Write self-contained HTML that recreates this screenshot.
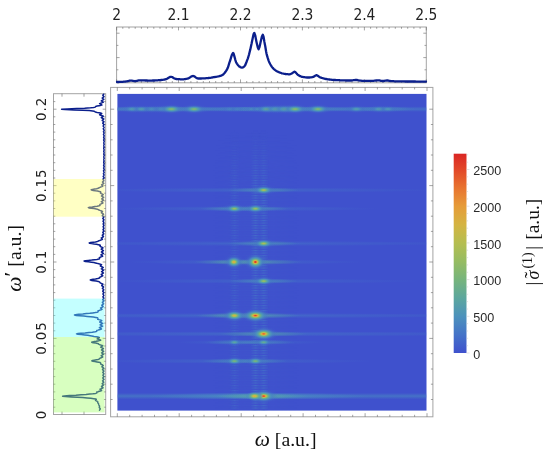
<!DOCTYPE html>
<html lang="en">
<head>
<meta charset="utf-8">
<title>2D spectrum</title>
<style>
html,body{margin:0;padding:0;background:#fff;}
body{width:550px;height:459px;overflow:hidden;}
svg{display:block;}
text{white-space:pre;}
</style>
</head>
<body>
<svg width="550" height="459" viewBox="0 0 550 459">
<defs>
<clipPath id="hc"><rect x="117.4" y="93.9" width="309.1" height="316.7"/></clipPath>
<pattern id="rip" width="4" height="2.5" patternUnits="userSpaceOnUse"><rect width="4" height="1.2" fill="#4a86c6"/></pattern>
<linearGradient id="vg" x1="0" x2="0" y1="0" y2="1"><stop offset="0" stop-color="#fff" stop-opacity="0"/><stop offset="0.22" stop-color="#fff" stop-opacity="1"/><stop offset="1" stop-color="#fff" stop-opacity="1"/></linearGradient>
<mask id="vm"><rect x="110" y="130" width="330" height="282" fill="url(#vg)"/></mask>
<linearGradient id="cg1" x1="0" x2="1" y1="0" y2="0"><stop offset="0" stop-color="#fff" stop-opacity="0"/><stop offset="0.5" stop-color="#fff" stop-opacity="1"/><stop offset="1" stop-color="#fff" stop-opacity="0"/></linearGradient>
<mask id="cm2"><rect x="228.9" y="130" width="11.0" height="282" fill="url(#cg1)"/></mask>
<linearGradient id="cg3" x1="0" x2="1" y1="0" y2="0"><stop offset="0" stop-color="#fff" stop-opacity="0"/><stop offset="0.5" stop-color="#fff" stop-opacity="1"/><stop offset="1" stop-color="#fff" stop-opacity="0"/></linearGradient>
<mask id="cm4"><rect x="250.4" y="130" width="10" height="282" fill="url(#cg3)"/></mask>
<linearGradient id="cg5" x1="0" x2="1" y1="0" y2="0"><stop offset="0" stop-color="#fff" stop-opacity="0"/><stop offset="0.5" stop-color="#fff" stop-opacity="1"/><stop offset="1" stop-color="#fff" stop-opacity="0"/></linearGradient>
<mask id="cm6"><rect x="258.7" y="130" width="10" height="282" fill="url(#cg5)"/></mask>
<linearGradient id="cg7" x1="0" x2="1" y1="0" y2="0"><stop offset="0" stop-color="#fff" stop-opacity="0"/><stop offset="0.5" stop-color="#fff" stop-opacity="1"/><stop offset="1" stop-color="#fff" stop-opacity="0"/></linearGradient>
<mask id="cm8"><rect x="211.0" y="130" width="90" height="282" fill="url(#cg7)"/></mask>
<linearGradient id="sg9" x1="0" x2="0" y1="0" y2="1"><stop offset="0" stop-color="#4679c6" stop-opacity="0"/><stop offset="0.5" stop-color="#4679c6" stop-opacity="0.75"/><stop offset="1" stop-color="#4679c6" stop-opacity="0"/></linearGradient>
<radialGradient id="sg10"><stop offset="0" stop-color="#4474c8" stop-opacity="0.7"/><stop offset="0.3" stop-color="#4474c8" stop-opacity="0.4"/><stop offset="0.7" stop-color="#4474c8" stop-opacity="0.18"/><stop offset="1" stop-color="#4474c8" stop-opacity="0"/></radialGradient>
<radialGradient id="sg11"><stop offset="0" stop-color="#4474c8" stop-opacity="0.7"/><stop offset="0.3" stop-color="#4474c8" stop-opacity="0.4"/><stop offset="0.7" stop-color="#4474c8" stop-opacity="0.18"/><stop offset="1" stop-color="#4474c8" stop-opacity="0"/></radialGradient>
<radialGradient id="sg12"><stop offset="0" stop-color="#4472c8" stop-opacity="0.7"/><stop offset="0.3" stop-color="#4472c8" stop-opacity="0.4"/><stop offset="0.7" stop-color="#4472c8" stop-opacity="0.18"/><stop offset="1" stop-color="#4472c8" stop-opacity="0"/></radialGradient>
<radialGradient id="sg13"><stop offset="0" stop-color="#4472c8" stop-opacity="0.7"/><stop offset="0.3" stop-color="#4472c8" stop-opacity="0.4"/><stop offset="0.7" stop-color="#4472c8" stop-opacity="0.18"/><stop offset="1" stop-color="#4472c8" stop-opacity="0"/></radialGradient>
<radialGradient id="sg14"><stop offset="0" stop-color="#436fc9" stop-opacity="0.7"/><stop offset="0.3" stop-color="#436fc9" stop-opacity="0.4"/><stop offset="0.7" stop-color="#436fc9" stop-opacity="0.18"/><stop offset="1" stop-color="#436fc9" stop-opacity="0"/></radialGradient>
<radialGradient id="sg15"><stop offset="0" stop-color="#4679c6" stop-opacity="0.7"/><stop offset="0.3" stop-color="#4679c6" stop-opacity="0.4"/><stop offset="0.7" stop-color="#4679c6" stop-opacity="0.18"/><stop offset="1" stop-color="#4679c6" stop-opacity="0"/></radialGradient>
<radialGradient id="sg16"><stop offset="0" stop-color="#4679c6" stop-opacity="0.7"/><stop offset="0.3" stop-color="#4679c6" stop-opacity="0.4"/><stop offset="0.7" stop-color="#4679c6" stop-opacity="0.18"/><stop offset="1" stop-color="#4679c6" stop-opacity="0"/></radialGradient>
<radialGradient id="sg17"><stop offset="0" stop-color="#436fc9" stop-opacity="0.7"/><stop offset="0.3" stop-color="#436fc9" stop-opacity="0.4"/><stop offset="0.7" stop-color="#436fc9" stop-opacity="0.18"/><stop offset="1" stop-color="#436fc9" stop-opacity="0"/></radialGradient>
<radialGradient id="sg18"><stop offset="0" stop-color="#4472c8" stop-opacity="0.7"/><stop offset="0.3" stop-color="#4472c8" stop-opacity="0.4"/><stop offset="0.7" stop-color="#4472c8" stop-opacity="0.18"/><stop offset="1" stop-color="#4472c8" stop-opacity="0"/></radialGradient>
<linearGradient id="sg19" x1="0" x2="0" y1="0" y2="1"><stop offset="0" stop-color="#477dc4" stop-opacity="0"/><stop offset="0.5" stop-color="#477dc4" stop-opacity="0.75"/><stop offset="1" stop-color="#477dc4" stop-opacity="0"/></linearGradient>
<radialGradient id="b396"><stop offset="0" stop-color="#4f9abc" stop-opacity="0.9"/><stop offset="0.5" stop-color="#4a8dc2" stop-opacity="0.5"/><stop offset="1" stop-color="#4a8dc2" stop-opacity="0"/></radialGradient>
<radialGradient id="wg20"><stop offset="0" stop-color="#4884c1" stop-opacity="0.9"/><stop offset="0.4" stop-color="#4884c1" stop-opacity="0.45"/><stop offset="1" stop-color="#4884c1" stop-opacity="0"/></radialGradient>
<radialGradient id="wg21"><stop offset="0" stop-color="#4884c1" stop-opacity="0.9"/><stop offset="0.4" stop-color="#4884c1" stop-opacity="0.45"/><stop offset="1" stop-color="#4884c1" stop-opacity="0"/></radialGradient>
<radialGradient id="wg22"><stop offset="0" stop-color="#4780c3" stop-opacity="0.9"/><stop offset="0.4" stop-color="#4780c3" stop-opacity="0.45"/><stop offset="1" stop-color="#4780c3" stop-opacity="0"/></radialGradient>
<radialGradient id="wg23"><stop offset="0" stop-color="#4881c3" stop-opacity="0.9"/><stop offset="0.4" stop-color="#4881c3" stop-opacity="0.45"/><stop offset="1" stop-color="#4881c3" stop-opacity="0"/></radialGradient>
<radialGradient id="wg24"><stop offset="0" stop-color="#4c91bc" stop-opacity="0.9"/><stop offset="0.4" stop-color="#4c91bc" stop-opacity="0.45"/><stop offset="1" stop-color="#4c91bc" stop-opacity="0"/></radialGradient>
<radialGradient id="wg25"><stop offset="0" stop-color="#4b90bd" stop-opacity="0.9"/><stop offset="0.4" stop-color="#4b90bd" stop-opacity="0.45"/><stop offset="1" stop-color="#4b90bd" stop-opacity="0"/></radialGradient>
<radialGradient id="wg26"><stop offset="0" stop-color="#477ec4" stop-opacity="0.9"/><stop offset="0.4" stop-color="#477ec4" stop-opacity="0.45"/><stop offset="1" stop-color="#477ec4" stop-opacity="0"/></radialGradient>
<radialGradient id="wg27"><stop offset="0" stop-color="#477ec4" stop-opacity="0.9"/><stop offset="0.4" stop-color="#477ec4" stop-opacity="0.45"/><stop offset="1" stop-color="#477ec4" stop-opacity="0"/></radialGradient>
<radialGradient id="wg28"><stop offset="0" stop-color="#4881c3" stop-opacity="0.9"/><stop offset="0.4" stop-color="#4881c3" stop-opacity="0.45"/><stop offset="1" stop-color="#4881c3" stop-opacity="0"/></radialGradient>
<radialGradient id="wg29"><stop offset="0" stop-color="#4881c3" stop-opacity="0.9"/><stop offset="0.4" stop-color="#4881c3" stop-opacity="0.45"/><stop offset="1" stop-color="#4881c3" stop-opacity="0"/></radialGradient>
<radialGradient id="wg30"><stop offset="0" stop-color="#4a8bbf" stop-opacity="0.9"/><stop offset="0.4" stop-color="#4a8bbf" stop-opacity="0.45"/><stop offset="1" stop-color="#4a8bbf" stop-opacity="0"/></radialGradient>
<radialGradient id="wg31"><stop offset="0" stop-color="#4986c1" stop-opacity="0.9"/><stop offset="0.4" stop-color="#4986c1" stop-opacity="0.45"/><stop offset="1" stop-color="#4986c1" stop-opacity="0"/></radialGradient>
<radialGradient id="wg32"><stop offset="0" stop-color="#4987c0" stop-opacity="0.9"/><stop offset="0.4" stop-color="#4987c0" stop-opacity="0.45"/><stop offset="1" stop-color="#4987c0" stop-opacity="0"/></radialGradient>
<radialGradient id="wg33"><stop offset="0" stop-color="#4c91bc" stop-opacity="0.9"/><stop offset="0.4" stop-color="#4c91bc" stop-opacity="0.45"/><stop offset="1" stop-color="#4c91bc" stop-opacity="0"/></radialGradient>
<radialGradient id="wg34"><stop offset="0" stop-color="#4b90bd" stop-opacity="0.9"/><stop offset="0.4" stop-color="#4b90bd" stop-opacity="0.45"/><stop offset="1" stop-color="#4b90bd" stop-opacity="0"/></radialGradient>
<radialGradient id="wg35"><stop offset="0" stop-color="#4884c1" stop-opacity="0.9"/><stop offset="0.4" stop-color="#4884c1" stop-opacity="0.45"/><stop offset="1" stop-color="#4884c1" stop-opacity="0"/></radialGradient>
<radialGradient id="wg36"><stop offset="0" stop-color="#4884c1" stop-opacity="0.9"/><stop offset="0.4" stop-color="#4884c1" stop-opacity="0.45"/><stop offset="1" stop-color="#4884c1" stop-opacity="0"/></radialGradient>
<radialGradient id="wg37"><stop offset="0" stop-color="#4882c2" stop-opacity="0.9"/><stop offset="0.4" stop-color="#4882c2" stop-opacity="0.45"/><stop offset="1" stop-color="#4882c2" stop-opacity="0"/></radialGradient>
<radialGradient id="wg38"><stop offset="0" stop-color="#4f96b6" stop-opacity="0.9"/><stop offset="0.4" stop-color="#4f96b6" stop-opacity="0.45"/><stop offset="1" stop-color="#4f96b6" stop-opacity="0"/></radialGradient>
<radialGradient id="wg39"><stop offset="0" stop-color="#4d94ba" stop-opacity="0.9"/><stop offset="0.4" stop-color="#4d94ba" stop-opacity="0.45"/><stop offset="1" stop-color="#4d94ba" stop-opacity="0"/></radialGradient>
<radialGradient id="wg40"><stop offset="0" stop-color="#4d94ba" stop-opacity="0.9"/><stop offset="0.4" stop-color="#4d94ba" stop-opacity="0.45"/><stop offset="1" stop-color="#4d94ba" stop-opacity="0"/></radialGradient>
<radialGradient id="wg41"><stop offset="0" stop-color="#4f96b6" stop-opacity="0.9"/><stop offset="0.4" stop-color="#4f96b6" stop-opacity="0.45"/><stop offset="1" stop-color="#4f96b6" stop-opacity="0"/></radialGradient>
<radialGradient id="wg42"><stop offset="0" stop-color="#549cae" stop-opacity="0.9"/><stop offset="0.4" stop-color="#549cae" stop-opacity="0.45"/><stop offset="1" stop-color="#549cae" stop-opacity="0"/></radialGradient>
<radialGradient id="wg43"><stop offset="0" stop-color="#549cae" stop-opacity="0.9"/><stop offset="0.4" stop-color="#549cae" stop-opacity="0.45"/><stop offset="1" stop-color="#549cae" stop-opacity="0"/></radialGradient>
<radialGradient id="wg44"><stop offset="0" stop-color="#4d94ba" stop-opacity="0.9"/><stop offset="0.4" stop-color="#4d94ba" stop-opacity="0.45"/><stop offset="1" stop-color="#4d94ba" stop-opacity="0"/></radialGradient>
<radialGradient id="wg45"><stop offset="0" stop-color="#549cae" stop-opacity="0.9"/><stop offset="0.4" stop-color="#549cae" stop-opacity="0.45"/><stop offset="1" stop-color="#549cae" stop-opacity="0"/></radialGradient>
<radialGradient id="wg46"><stop offset="0" stop-color="#549cae" stop-opacity="0.9"/><stop offset="0.4" stop-color="#549cae" stop-opacity="0.45"/><stop offset="1" stop-color="#549cae" stop-opacity="0"/></radialGradient>
<radialGradient id="wg47"><stop offset="0" stop-color="#549cae" stop-opacity="0.9"/><stop offset="0.4" stop-color="#549cae" stop-opacity="0.45"/><stop offset="1" stop-color="#549cae" stop-opacity="0"/></radialGradient>
<radialGradient id="wg48"><stop offset="0" stop-color="#4987c0" stop-opacity="0.9"/><stop offset="0.4" stop-color="#4987c0" stop-opacity="0.45"/><stop offset="1" stop-color="#4987c0" stop-opacity="0"/></radialGradient>
<radialGradient id="wg49"><stop offset="0" stop-color="#4a89bf" stop-opacity="0.9"/><stop offset="0.4" stop-color="#4a89bf" stop-opacity="0.45"/><stop offset="1" stop-color="#4a89bf" stop-opacity="0"/></radialGradient>
<radialGradient id="wg50"><stop offset="0" stop-color="#4b8ebd" stop-opacity="0.9"/><stop offset="0.4" stop-color="#4b8ebd" stop-opacity="0.45"/><stop offset="1" stop-color="#4b8ebd" stop-opacity="0"/></radialGradient>
<radialGradient id="wg51"><stop offset="0" stop-color="#4b8ebd" stop-opacity="0.9"/><stop offset="0.4" stop-color="#4b8ebd" stop-opacity="0.45"/><stop offset="1" stop-color="#4b8ebd" stop-opacity="0"/></radialGradient>
<radialGradient id="wg52"><stop offset="0" stop-color="#549cae" stop-opacity="0.9"/><stop offset="0.4" stop-color="#549cae" stop-opacity="0.45"/><stop offset="1" stop-color="#549cae" stop-opacity="0"/></radialGradient>
<radialGradient id="wg53"><stop offset="0" stop-color="#549cae" stop-opacity="0.9"/><stop offset="0.4" stop-color="#549cae" stop-opacity="0.45"/><stop offset="1" stop-color="#549cae" stop-opacity="0"/></radialGradient>
<radialGradient id="rg54"><stop offset="0" stop-color="#569faa" stop-opacity="1.00"/><stop offset="0.04" stop-color="#559eab" stop-opacity="1.00"/><stop offset="0.08" stop-color="#539cae" stop-opacity="1.00"/><stop offset="0.12" stop-color="#5198b3" stop-opacity="1.00"/><stop offset="0.16" stop-color="#4e94b9" stop-opacity="1.00"/><stop offset="0.2" stop-color="#4b8fbd" stop-opacity="0.99"/><stop offset="0.25" stop-color="#4988c0" stop-opacity="0.97"/><stop offset="0.3" stop-color="#4781c3" stop-opacity="0.79"/><stop offset="0.36" stop-color="#4679c6" stop-opacity="0.61"/><stop offset="0.43" stop-color="#4472c8" stop-opacity="0.43"/><stop offset="0.5" stop-color="#436cc9" stop-opacity="0.29"/><stop offset="0.6" stop-color="#4266ca" stop-opacity="0.15"/><stop offset="0.7" stop-color="#4161cb" stop-opacity="0.06"/><stop offset="0.85" stop-color="#415dcb" stop-opacity="0.00"/><stop offset="1.0" stop-color="#405acc" stop-opacity="0.00"/></radialGradient>
<radialGradient id="rg55"><stop offset="0" stop-color="#569faa" stop-opacity="1.00"/><stop offset="0.04" stop-color="#559eab" stop-opacity="1.00"/><stop offset="0.08" stop-color="#539cae" stop-opacity="1.00"/><stop offset="0.12" stop-color="#5198b3" stop-opacity="1.00"/><stop offset="0.16" stop-color="#4e94b9" stop-opacity="1.00"/><stop offset="0.2" stop-color="#4b8fbd" stop-opacity="0.99"/><stop offset="0.25" stop-color="#4988c0" stop-opacity="0.97"/><stop offset="0.3" stop-color="#4781c3" stop-opacity="0.79"/><stop offset="0.36" stop-color="#4679c6" stop-opacity="0.61"/><stop offset="0.43" stop-color="#4472c8" stop-opacity="0.43"/><stop offset="0.5" stop-color="#436cc9" stop-opacity="0.29"/><stop offset="0.6" stop-color="#4266ca" stop-opacity="0.15"/><stop offset="0.7" stop-color="#4161cb" stop-opacity="0.06"/><stop offset="0.85" stop-color="#415dcb" stop-opacity="0.00"/><stop offset="1.0" stop-color="#405acc" stop-opacity="0.00"/></radialGradient>
<radialGradient id="rg56"><stop offset="0" stop-color="#4b90bd" stop-opacity="1.00"/><stop offset="0.04" stop-color="#4b8fbd" stop-opacity="1.00"/><stop offset="0.08" stop-color="#4b8dbe" stop-opacity="1.00"/><stop offset="0.12" stop-color="#4a8bbf" stop-opacity="1.00"/><stop offset="0.16" stop-color="#4987c0" stop-opacity="0.98"/><stop offset="0.2" stop-color="#4884c2" stop-opacity="0.88"/><stop offset="0.25" stop-color="#477fc3" stop-opacity="0.76"/><stop offset="0.3" stop-color="#467ac5" stop-opacity="0.64"/><stop offset="0.36" stop-color="#4475c7" stop-opacity="0.51"/><stop offset="0.43" stop-color="#436fc9" stop-opacity="0.37"/><stop offset="0.5" stop-color="#436ac9" stop-opacity="0.26"/><stop offset="0.6" stop-color="#4265ca" stop-opacity="0.14"/><stop offset="0.7" stop-color="#4161cb" stop-opacity="0.06"/><stop offset="0.85" stop-color="#415dcb" stop-opacity="0.00"/><stop offset="1.0" stop-color="#405acc" stop-opacity="0.00"/></radialGradient>
<radialGradient id="rg57"><stop offset="0" stop-color="#4d94ba" stop-opacity="1.00"/><stop offset="0.04" stop-color="#4d93ba" stop-opacity="1.00"/><stop offset="0.08" stop-color="#4c92bc" stop-opacity="1.00"/><stop offset="0.12" stop-color="#4b8fbd" stop-opacity="1.00"/><stop offset="0.16" stop-color="#4a8cbe" stop-opacity="1.00"/><stop offset="0.2" stop-color="#4988c0" stop-opacity="0.98"/><stop offset="0.25" stop-color="#4882c2" stop-opacity="0.85"/><stop offset="0.3" stop-color="#477dc4" stop-opacity="0.72"/><stop offset="0.36" stop-color="#4578c6" stop-opacity="0.57"/><stop offset="0.43" stop-color="#4472c8" stop-opacity="0.42"/><stop offset="0.5" stop-color="#436dc9" stop-opacity="0.30"/><stop offset="0.6" stop-color="#4267ca" stop-opacity="0.17"/><stop offset="0.7" stop-color="#4262ca" stop-opacity="0.08"/><stop offset="0.85" stop-color="#415ecb" stop-opacity="0.01"/><stop offset="1.0" stop-color="#405bcc" stop-opacity="0.00"/></radialGradient>
<radialGradient id="rg58"><stop offset="0" stop-color="#89b96c" stop-opacity="1.00"/><stop offset="0.04" stop-color="#87b86e" stop-opacity="1.00"/><stop offset="0.08" stop-color="#81b773" stop-opacity="1.00"/><stop offset="0.12" stop-color="#78b57a" stop-opacity="1.00"/><stop offset="0.16" stop-color="#6fb185" stop-opacity="1.00"/><stop offset="0.2" stop-color="#66ac91" stop-opacity="0.99"/><stop offset="0.25" stop-color="#5ba6a0" stop-opacity="0.98"/><stop offset="0.3" stop-color="#559dac" stop-opacity="0.97"/><stop offset="0.36" stop-color="#4e95b8" stop-opacity="0.95"/><stop offset="0.43" stop-color="#4a8abf" stop-opacity="0.92"/><stop offset="0.5" stop-color="#4780c3" stop-opacity="0.70"/><stop offset="0.6" stop-color="#4576c7" stop-opacity="0.43"/><stop offset="0.7" stop-color="#436ec9" stop-opacity="0.24"/><stop offset="0.85" stop-color="#4266ca" stop-opacity="0.07"/><stop offset="1.0" stop-color="#4161cb" stop-opacity="0.00"/></radialGradient>
<radialGradient id="rg59"><stop offset="0" stop-color="#83b772" stop-opacity="1.00"/><stop offset="0.04" stop-color="#81b773" stop-opacity="1.00"/><stop offset="0.08" stop-color="#7bb578" stop-opacity="1.00"/><stop offset="0.12" stop-color="#73b380" stop-opacity="1.00"/><stop offset="0.16" stop-color="#6bae8a" stop-opacity="1.00"/><stop offset="0.2" stop-color="#62aa96" stop-opacity="0.99"/><stop offset="0.25" stop-color="#59a3a4" stop-opacity="0.98"/><stop offset="0.3" stop-color="#539baf" stop-opacity="0.97"/><stop offset="0.36" stop-color="#4c93bb" stop-opacity="0.95"/><stop offset="0.43" stop-color="#4987c0" stop-opacity="0.90"/><stop offset="0.5" stop-color="#477ec4" stop-opacity="0.66"/><stop offset="0.6" stop-color="#4474c8" stop-opacity="0.40"/><stop offset="0.7" stop-color="#436dc9" stop-opacity="0.23"/><stop offset="0.85" stop-color="#4265ca" stop-opacity="0.07"/><stop offset="1.0" stop-color="#4160cb" stop-opacity="0.00"/></radialGradient>
<radialGradient id="rg60"><stop offset="0" stop-color="#4986c1" stop-opacity="0.94"/><stop offset="0.04" stop-color="#4985c1" stop-opacity="0.92"/><stop offset="0.08" stop-color="#4883c2" stop-opacity="0.87"/><stop offset="0.12" stop-color="#4780c3" stop-opacity="0.80"/><stop offset="0.16" stop-color="#467cc4" stop-opacity="0.71"/><stop offset="0.2" stop-color="#4578c6" stop-opacity="0.61"/><stop offset="0.25" stop-color="#4474c8" stop-opacity="0.50"/><stop offset="0.3" stop-color="#436fc9" stop-opacity="0.39"/><stop offset="0.36" stop-color="#436ac9" stop-opacity="0.27"/><stop offset="0.43" stop-color="#4265ca" stop-opacity="0.17"/><stop offset="0.5" stop-color="#4162cb" stop-opacity="0.09"/><stop offset="0.6" stop-color="#415ecb" stop-opacity="0.01"/><stop offset="0.7" stop-color="#405bcc" stop-opacity="0.00"/><stop offset="0.85" stop-color="#4058cc" stop-opacity="0.00"/><stop offset="1.0" stop-color="#4056cc" stop-opacity="0.00"/></radialGradient>
<radialGradient id="rg61"><stop offset="0" stop-color="#4883c2" stop-opacity="0.88"/><stop offset="0.04" stop-color="#4882c2" stop-opacity="0.86"/><stop offset="0.08" stop-color="#4781c3" stop-opacity="0.82"/><stop offset="0.12" stop-color="#477ec4" stop-opacity="0.75"/><stop offset="0.16" stop-color="#467ac5" stop-opacity="0.66"/><stop offset="0.2" stop-color="#4577c7" stop-opacity="0.57"/><stop offset="0.25" stop-color="#4472c8" stop-opacity="0.46"/><stop offset="0.3" stop-color="#436ec9" stop-opacity="0.35"/><stop offset="0.36" stop-color="#4369c9" stop-opacity="0.25"/><stop offset="0.43" stop-color="#4264ca" stop-opacity="0.15"/><stop offset="0.5" stop-color="#4161cb" stop-opacity="0.07"/><stop offset="0.6" stop-color="#415dcb" stop-opacity="0.00"/><stop offset="0.7" stop-color="#405bcc" stop-opacity="0.00"/><stop offset="0.85" stop-color="#4058cc" stop-opacity="0.00"/><stop offset="1.0" stop-color="#4056cc" stop-opacity="0.00"/></radialGradient>
<radialGradient id="rg62"><stop offset="0" stop-color="#4d94ba" stop-opacity="1.00"/><stop offset="0.04" stop-color="#4d93bb" stop-opacity="1.00"/><stop offset="0.08" stop-color="#4b8fbd" stop-opacity="1.00"/><stop offset="0.12" stop-color="#4a8abf" stop-opacity="1.00"/><stop offset="0.16" stop-color="#4883c2" stop-opacity="0.88"/><stop offset="0.2" stop-color="#477dc4" stop-opacity="0.73"/><stop offset="0.25" stop-color="#4576c7" stop-opacity="0.56"/><stop offset="0.3" stop-color="#4470c8" stop-opacity="0.41"/><stop offset="0.36" stop-color="#436ac9" stop-opacity="0.27"/><stop offset="0.43" stop-color="#4265ca" stop-opacity="0.15"/><stop offset="0.5" stop-color="#4161cb" stop-opacity="0.07"/><stop offset="0.6" stop-color="#415dcb" stop-opacity="0.00"/><stop offset="0.7" stop-color="#405acc" stop-opacity="0.00"/><stop offset="0.85" stop-color="#4057cc" stop-opacity="0.00"/><stop offset="1.0" stop-color="#4056cc" stop-opacity="0.00"/></radialGradient>
<radialGradient id="rg63"><stop offset="0" stop-color="#4d94ba" stop-opacity="1.00"/><stop offset="0.04" stop-color="#4d93bb" stop-opacity="1.00"/><stop offset="0.08" stop-color="#4b8fbd" stop-opacity="1.00"/><stop offset="0.12" stop-color="#4a8abf" stop-opacity="1.00"/><stop offset="0.16" stop-color="#4883c2" stop-opacity="0.88"/><stop offset="0.2" stop-color="#477dc4" stop-opacity="0.73"/><stop offset="0.25" stop-color="#4576c7" stop-opacity="0.56"/><stop offset="0.3" stop-color="#4470c8" stop-opacity="0.41"/><stop offset="0.36" stop-color="#436ac9" stop-opacity="0.27"/><stop offset="0.43" stop-color="#4265ca" stop-opacity="0.15"/><stop offset="0.5" stop-color="#4161cb" stop-opacity="0.07"/><stop offset="0.6" stop-color="#415dcb" stop-opacity="0.00"/><stop offset="0.7" stop-color="#405acc" stop-opacity="0.00"/><stop offset="0.85" stop-color="#4057cc" stop-opacity="0.00"/><stop offset="1.0" stop-color="#4056cc" stop-opacity="0.00"/></radialGradient>
<radialGradient id="rg64"><stop offset="0" stop-color="#6caf8a" stop-opacity="1.00"/><stop offset="0.04" stop-color="#6aae8b" stop-opacity="1.00"/><stop offset="0.08" stop-color="#67ac90" stop-opacity="1.00"/><stop offset="0.12" stop-color="#61a998" stop-opacity="1.00"/><stop offset="0.16" stop-color="#5ba5a0" stop-opacity="1.00"/><stop offset="0.2" stop-color="#56a0a9" stop-opacity="0.99"/><stop offset="0.25" stop-color="#5198b3" stop-opacity="0.98"/><stop offset="0.3" stop-color="#4c92bc" stop-opacity="0.97"/><stop offset="0.36" stop-color="#4988c0" stop-opacity="0.94"/><stop offset="0.43" stop-color="#477ec4" stop-opacity="0.69"/><stop offset="0.5" stop-color="#4576c7" stop-opacity="0.50"/><stop offset="0.6" stop-color="#436ec9" stop-opacity="0.29"/><stop offset="0.7" stop-color="#4268ca" stop-opacity="0.15"/><stop offset="0.85" stop-color="#4161cb" stop-opacity="0.04"/><stop offset="1.0" stop-color="#415dcb" stop-opacity="0.00"/></radialGradient>
<radialGradient id="rg65"><stop offset="0" stop-color="#59a3a4" stop-opacity="1.00"/><stop offset="0.04" stop-color="#58a2a5" stop-opacity="1.00"/><stop offset="0.08" stop-color="#57a1a7" stop-opacity="1.00"/><stop offset="0.12" stop-color="#559eab" stop-opacity="1.00"/><stop offset="0.16" stop-color="#539bb0" stop-opacity="1.00"/><stop offset="0.2" stop-color="#5097b5" stop-opacity="0.99"/><stop offset="0.25" stop-color="#4c92bc" stop-opacity="0.98"/><stop offset="0.3" stop-color="#4a8cbe" stop-opacity="0.97"/><stop offset="0.36" stop-color="#4884c1" stop-opacity="0.86"/><stop offset="0.43" stop-color="#467cc4" stop-opacity="0.65"/><stop offset="0.5" stop-color="#4576c7" stop-opacity="0.49"/><stop offset="0.6" stop-color="#436ec9" stop-opacity="0.30"/><stop offset="0.7" stop-color="#4268ca" stop-opacity="0.16"/><stop offset="0.85" stop-color="#4262ca" stop-opacity="0.04"/><stop offset="1.0" stop-color="#415ecb" stop-opacity="0.00"/></radialGradient>
<radialGradient id="rg66"><stop offset="0" stop-color="#5ca79e" stop-opacity="1.00"/><stop offset="0.04" stop-color="#5ca69f" stop-opacity="1.00"/><stop offset="0.08" stop-color="#5aa5a1" stop-opacity="1.00"/><stop offset="0.12" stop-color="#58a2a5" stop-opacity="1.00"/><stop offset="0.16" stop-color="#559eaa" stop-opacity="1.00"/><stop offset="0.2" stop-color="#529ab0" stop-opacity="0.99"/><stop offset="0.25" stop-color="#4f95b7" stop-opacity="0.98"/><stop offset="0.3" stop-color="#4b90bd" stop-opacity="0.97"/><stop offset="0.36" stop-color="#4987c0" stop-opacity="0.94"/><stop offset="0.43" stop-color="#477fc3" stop-opacity="0.72"/><stop offset="0.5" stop-color="#4578c6" stop-opacity="0.54"/><stop offset="0.6" stop-color="#4470c8" stop-opacity="0.33"/><stop offset="0.7" stop-color="#436ac9" stop-opacity="0.19"/><stop offset="0.85" stop-color="#4263ca" stop-opacity="0.05"/><stop offset="1.0" stop-color="#415fcb" stop-opacity="0.00"/></radialGradient>
<radialGradient id="rg67"><stop offset="0" stop-color="#89b96c" stop-opacity="1.00"/><stop offset="0.04" stop-color="#87b86e" stop-opacity="1.00"/><stop offset="0.08" stop-color="#81b773" stop-opacity="1.00"/><stop offset="0.12" stop-color="#78b57a" stop-opacity="1.00"/><stop offset="0.16" stop-color="#6fb185" stop-opacity="1.00"/><stop offset="0.2" stop-color="#66ac91" stop-opacity="0.99"/><stop offset="0.25" stop-color="#5ba6a0" stop-opacity="0.98"/><stop offset="0.3" stop-color="#559dac" stop-opacity="0.97"/><stop offset="0.36" stop-color="#4e95b8" stop-opacity="0.95"/><stop offset="0.43" stop-color="#4a8abf" stop-opacity="0.92"/><stop offset="0.5" stop-color="#4780c3" stop-opacity="0.70"/><stop offset="0.6" stop-color="#4576c7" stop-opacity="0.43"/><stop offset="0.7" stop-color="#436ec9" stop-opacity="0.24"/><stop offset="0.85" stop-color="#4266ca" stop-opacity="0.07"/><stop offset="1.0" stop-color="#4161cb" stop-opacity="0.00"/></radialGradient>
<radialGradient id="rg68"><stop offset="0" stop-color="#83b772" stop-opacity="1.00"/><stop offset="0.04" stop-color="#81b773" stop-opacity="1.00"/><stop offset="0.08" stop-color="#7bb578" stop-opacity="1.00"/><stop offset="0.12" stop-color="#73b380" stop-opacity="1.00"/><stop offset="0.16" stop-color="#6bae8a" stop-opacity="1.00"/><stop offset="0.2" stop-color="#62aa96" stop-opacity="0.99"/><stop offset="0.25" stop-color="#59a3a4" stop-opacity="0.98"/><stop offset="0.3" stop-color="#539baf" stop-opacity="0.97"/><stop offset="0.36" stop-color="#4c93bb" stop-opacity="0.95"/><stop offset="0.43" stop-color="#4987c0" stop-opacity="0.90"/><stop offset="0.5" stop-color="#477ec4" stop-opacity="0.66"/><stop offset="0.6" stop-color="#4474c8" stop-opacity="0.40"/><stop offset="0.7" stop-color="#436dc9" stop-opacity="0.23"/><stop offset="0.85" stop-color="#4265ca" stop-opacity="0.07"/><stop offset="1.0" stop-color="#4160cb" stop-opacity="0.00"/></radialGradient>
<radialGradient id="rg69"><stop offset="0" stop-color="#559eab" stop-opacity="1.00"/><stop offset="0.04" stop-color="#549dac" stop-opacity="1.00"/><stop offset="0.08" stop-color="#539baf" stop-opacity="1.00"/><stop offset="0.12" stop-color="#5098b4" stop-opacity="1.00"/><stop offset="0.16" stop-color="#4d94ba" stop-opacity="1.00"/><stop offset="0.2" stop-color="#4b8ebd" stop-opacity="0.99"/><stop offset="0.25" stop-color="#4987c0" stop-opacity="0.95"/><stop offset="0.3" stop-color="#4780c3" stop-opacity="0.78"/><stop offset="0.36" stop-color="#4579c6" stop-opacity="0.59"/><stop offset="0.43" stop-color="#4472c8" stop-opacity="0.42"/><stop offset="0.5" stop-color="#436cc9" stop-opacity="0.28"/><stop offset="0.6" stop-color="#4266ca" stop-opacity="0.14"/><stop offset="0.7" stop-color="#4161cb" stop-opacity="0.06"/><stop offset="0.85" stop-color="#415dcb" stop-opacity="0.00"/><stop offset="1.0" stop-color="#405acc" stop-opacity="0.00"/></radialGradient>
<radialGradient id="rg70"><stop offset="0" stop-color="#559eab" stop-opacity="1.00"/><stop offset="0.04" stop-color="#549dac" stop-opacity="1.00"/><stop offset="0.08" stop-color="#539baf" stop-opacity="1.00"/><stop offset="0.12" stop-color="#5098b4" stop-opacity="1.00"/><stop offset="0.16" stop-color="#4d94ba" stop-opacity="1.00"/><stop offset="0.2" stop-color="#4b8ebd" stop-opacity="0.99"/><stop offset="0.25" stop-color="#4987c0" stop-opacity="0.95"/><stop offset="0.3" stop-color="#4780c3" stop-opacity="0.78"/><stop offset="0.36" stop-color="#4579c6" stop-opacity="0.59"/><stop offset="0.43" stop-color="#4472c8" stop-opacity="0.42"/><stop offset="0.5" stop-color="#436cc9" stop-opacity="0.28"/><stop offset="0.6" stop-color="#4266ca" stop-opacity="0.14"/><stop offset="0.7" stop-color="#4161cb" stop-opacity="0.06"/><stop offset="0.85" stop-color="#415dcb" stop-opacity="0.00"/><stop offset="1.0" stop-color="#405acc" stop-opacity="0.00"/></radialGradient>
<radialGradient id="rg71"><stop offset="0" stop-color="#5097b5" stop-opacity="1.00"/><stop offset="0.04" stop-color="#4f96b6" stop-opacity="1.00"/><stop offset="0.08" stop-color="#4e94b8" stop-opacity="1.00"/><stop offset="0.12" stop-color="#4c91bc" stop-opacity="1.00"/><stop offset="0.16" stop-color="#4b8cbe" stop-opacity="1.00"/><stop offset="0.2" stop-color="#4987c0" stop-opacity="0.97"/><stop offset="0.25" stop-color="#4780c3" stop-opacity="0.80"/><stop offset="0.3" stop-color="#467ac5" stop-opacity="0.65"/><stop offset="0.36" stop-color="#4474c8" stop-opacity="0.49"/><stop offset="0.43" stop-color="#436ec9" stop-opacity="0.34"/><stop offset="0.5" stop-color="#4268ca" stop-opacity="0.22"/><stop offset="0.6" stop-color="#4263ca" stop-opacity="0.10"/><stop offset="0.7" stop-color="#415fcb" stop-opacity="0.03"/><stop offset="0.85" stop-color="#405bcc" stop-opacity="0.00"/><stop offset="1.0" stop-color="#4059cc" stop-opacity="0.00"/></radialGradient>
<radialGradient id="rg72"><stop offset="0" stop-color="#afbe54" stop-opacity="1.00"/><stop offset="0.04" stop-color="#aabd56" stop-opacity="1.00"/><stop offset="0.08" stop-color="#9ebc5e" stop-opacity="1.00"/><stop offset="0.12" stop-color="#8cba6a" stop-opacity="1.00"/><stop offset="0.16" stop-color="#79b57a" stop-opacity="1.00"/><stop offset="0.2" stop-color="#69ad8d" stop-opacity="0.99"/><stop offset="0.25" stop-color="#5aa4a2" stop-opacity="0.98"/><stop offset="0.3" stop-color="#5199b2" stop-opacity="0.97"/><stop offset="0.36" stop-color="#4b8dbe" stop-opacity="0.95"/><stop offset="0.43" stop-color="#4781c3" stop-opacity="0.75"/><stop offset="0.5" stop-color="#4577c6" stop-opacity="0.51"/><stop offset="0.6" stop-color="#436ec9" stop-opacity="0.28"/><stop offset="0.7" stop-color="#4267ca" stop-opacity="0.14"/><stop offset="0.85" stop-color="#4160cb" stop-opacity="0.03"/><stop offset="1.0" stop-color="#415ccb" stop-opacity="0.00"/></radialGradient>
<radialGradient id="rg73"><stop offset="0" stop-color="#9cbc5e" stop-opacity="1.00"/><stop offset="0.04" stop-color="#98bc61" stop-opacity="1.00"/><stop offset="0.08" stop-color="#8dba6a" stop-opacity="1.00"/><stop offset="0.12" stop-color="#7db677" stop-opacity="1.00"/><stop offset="0.16" stop-color="#6db088" stop-opacity="1.00"/><stop offset="0.2" stop-color="#60a999" stop-opacity="0.99"/><stop offset="0.25" stop-color="#559eab" stop-opacity="0.98"/><stop offset="0.3" stop-color="#4e94b9" stop-opacity="0.97"/><stop offset="0.36" stop-color="#4988c0" stop-opacity="0.94"/><stop offset="0.43" stop-color="#467cc5" stop-opacity="0.65"/><stop offset="0.5" stop-color="#4474c8" stop-opacity="0.44"/><stop offset="0.6" stop-color="#436bc9" stop-opacity="0.23"/><stop offset="0.7" stop-color="#4265ca" stop-opacity="0.11"/><stop offset="0.85" stop-color="#415fcb" stop-opacity="0.01"/><stop offset="1.0" stop-color="#405bcc" stop-opacity="0.00"/></radialGradient>
<radialGradient id="rg74"><stop offset="0" stop-color="#9cbc5e" stop-opacity="1.00"/><stop offset="0.04" stop-color="#98bc61" stop-opacity="1.00"/><stop offset="0.08" stop-color="#8dba6a" stop-opacity="1.00"/><stop offset="0.12" stop-color="#7db677" stop-opacity="1.00"/><stop offset="0.16" stop-color="#6db088" stop-opacity="1.00"/><stop offset="0.2" stop-color="#60a999" stop-opacity="0.99"/><stop offset="0.25" stop-color="#559eab" stop-opacity="0.98"/><stop offset="0.3" stop-color="#4e94b9" stop-opacity="0.97"/><stop offset="0.36" stop-color="#4988c0" stop-opacity="0.94"/><stop offset="0.43" stop-color="#467cc5" stop-opacity="0.65"/><stop offset="0.5" stop-color="#4474c8" stop-opacity="0.44"/><stop offset="0.6" stop-color="#436bc9" stop-opacity="0.23"/><stop offset="0.7" stop-color="#4265ca" stop-opacity="0.11"/><stop offset="0.85" stop-color="#415fcb" stop-opacity="0.01"/><stop offset="1.0" stop-color="#405bcc" stop-opacity="0.00"/></radialGradient>
<radialGradient id="rg75"><stop offset="0" stop-color="#afbe54" stop-opacity="1.00"/><stop offset="0.04" stop-color="#aabd56" stop-opacity="1.00"/><stop offset="0.08" stop-color="#9ebc5e" stop-opacity="1.00"/><stop offset="0.12" stop-color="#8cba6a" stop-opacity="1.00"/><stop offset="0.16" stop-color="#79b57a" stop-opacity="1.00"/><stop offset="0.2" stop-color="#69ad8d" stop-opacity="0.99"/><stop offset="0.25" stop-color="#5aa4a2" stop-opacity="0.98"/><stop offset="0.3" stop-color="#5199b2" stop-opacity="0.97"/><stop offset="0.36" stop-color="#4b8dbe" stop-opacity="0.95"/><stop offset="0.43" stop-color="#4781c3" stop-opacity="0.75"/><stop offset="0.5" stop-color="#4577c6" stop-opacity="0.51"/><stop offset="0.6" stop-color="#436ec9" stop-opacity="0.28"/><stop offset="0.7" stop-color="#4267ca" stop-opacity="0.14"/><stop offset="0.85" stop-color="#4160cb" stop-opacity="0.03"/><stop offset="1.0" stop-color="#415ccb" stop-opacity="0.00"/></radialGradient>
<radialGradient id="rg76"><stop offset="0" stop-color="#e2a13a" stop-opacity="1.00"/><stop offset="0.04" stop-color="#dda73d" stop-opacity="1.00"/><stop offset="0.08" stop-color="#ceb645" stop-opacity="1.00"/><stop offset="0.12" stop-color="#b0be53" stop-opacity="1.00"/><stop offset="0.16" stop-color="#93bb65" stop-opacity="1.00"/><stop offset="0.2" stop-color="#78b47b" stop-opacity="0.99"/><stop offset="0.25" stop-color="#61a998" stop-opacity="0.98"/><stop offset="0.3" stop-color="#549dac" stop-opacity="0.97"/><stop offset="0.36" stop-color="#4c90bd" stop-opacity="0.95"/><stop offset="0.43" stop-color="#4882c2" stop-opacity="0.78"/><stop offset="0.5" stop-color="#4578c6" stop-opacity="0.52"/><stop offset="0.6" stop-color="#436dc9" stop-opacity="0.28"/><stop offset="0.7" stop-color="#4266ca" stop-opacity="0.13"/><stop offset="0.85" stop-color="#4160cb" stop-opacity="0.02"/><stop offset="1.0" stop-color="#415ccb" stop-opacity="0.00"/></radialGradient>
<radialGradient id="rg77"><stop offset="0" stop-color="#da2624" stop-opacity="1.00"/><stop offset="0.04" stop-color="#de3526" stop-opacity="1.00"/><stop offset="0.08" stop-color="#e55f2c" stop-opacity="1.00"/><stop offset="0.12" stop-color="#e69637" stop-opacity="1.00"/><stop offset="0.16" stop-color="#cfb644" stop-opacity="1.00"/><stop offset="0.2" stop-color="#aabd56" stop-opacity="0.99"/><stop offset="0.25" stop-color="#84b870" stop-opacity="0.98"/><stop offset="0.3" stop-color="#6aae8c" stop-opacity="0.97"/><stop offset="0.36" stop-color="#57a1a6" stop-opacity="0.95"/><stop offset="0.43" stop-color="#4d93ba" stop-opacity="0.92"/><stop offset="0.5" stop-color="#4986c1" stop-opacity="0.82"/><stop offset="0.6" stop-color="#4578c6" stop-opacity="0.48"/><stop offset="0.7" stop-color="#436fc9" stop-opacity="0.26"/><stop offset="0.85" stop-color="#4266ca" stop-opacity="0.07"/><stop offset="1.0" stop-color="#4160cb" stop-opacity="0.00"/></radialGradient>
<radialGradient id="rg78"><stop offset="0" stop-color="#9cbc5e" stop-opacity="1.00"/><stop offset="0.04" stop-color="#98bc61" stop-opacity="1.00"/><stop offset="0.08" stop-color="#8dba6a" stop-opacity="1.00"/><stop offset="0.12" stop-color="#7db677" stop-opacity="1.00"/><stop offset="0.16" stop-color="#6db088" stop-opacity="1.00"/><stop offset="0.2" stop-color="#60a999" stop-opacity="0.99"/><stop offset="0.25" stop-color="#559eab" stop-opacity="0.98"/><stop offset="0.3" stop-color="#4e94b9" stop-opacity="0.97"/><stop offset="0.36" stop-color="#4988c0" stop-opacity="0.94"/><stop offset="0.43" stop-color="#467cc5" stop-opacity="0.65"/><stop offset="0.5" stop-color="#4474c8" stop-opacity="0.44"/><stop offset="0.6" stop-color="#436bc9" stop-opacity="0.23"/><stop offset="0.7" stop-color="#4265ca" stop-opacity="0.11"/><stop offset="0.85" stop-color="#415fcb" stop-opacity="0.01"/><stop offset="1.0" stop-color="#405bcc" stop-opacity="0.00"/></radialGradient>
<radialGradient id="rg79"><stop offset="0" stop-color="#d8af40" stop-opacity="1.00"/><stop offset="0.04" stop-color="#d4b442" stop-opacity="1.00"/><stop offset="0.08" stop-color="#c4b949" stop-opacity="1.00"/><stop offset="0.12" stop-color="#aebe54" stop-opacity="1.00"/><stop offset="0.16" stop-color="#96bc62" stop-opacity="1.00"/><stop offset="0.2" stop-color="#7eb676" stop-opacity="0.99"/><stop offset="0.25" stop-color="#68ad8f" stop-opacity="0.98"/><stop offset="0.3" stop-color="#59a3a4" stop-opacity="0.97"/><stop offset="0.36" stop-color="#4f97b6" stop-opacity="0.95"/><stop offset="0.43" stop-color="#4a89bf" stop-opacity="0.92"/><stop offset="0.5" stop-color="#477ec4" stop-opacity="0.66"/><stop offset="0.6" stop-color="#4473c8" stop-opacity="0.38"/><stop offset="0.7" stop-color="#436bc9" stop-opacity="0.20"/><stop offset="0.85" stop-color="#4263ca" stop-opacity="0.05"/><stop offset="1.0" stop-color="#415ecb" stop-opacity="0.00"/></radialGradient>
<radialGradient id="rg80"><stop offset="0" stop-color="#e04027" stop-opacity="1.00"/><stop offset="0.04" stop-color="#e24a28" stop-opacity="1.00"/><stop offset="0.08" stop-color="#e6682e" stop-opacity="1.00"/><stop offset="0.12" stop-color="#e78f35" stop-opacity="1.00"/><stop offset="0.16" stop-color="#d9ad3f" stop-opacity="1.00"/><stop offset="0.2" stop-color="#bebb4c" stop-opacity="0.99"/><stop offset="0.25" stop-color="#9bbc5f" stop-opacity="0.98"/><stop offset="0.3" stop-color="#7eb676" stop-opacity="0.97"/><stop offset="0.36" stop-color="#66ac91" stop-opacity="0.95"/><stop offset="0.43" stop-color="#569fa9" stop-opacity="0.92"/><stop offset="0.5" stop-color="#4d94b9" stop-opacity="0.88"/><stop offset="0.6" stop-color="#4884c1" stop-opacity="0.70"/><stop offset="0.7" stop-color="#4579c6" stop-opacity="0.41"/><stop offset="0.85" stop-color="#436dc9" stop-opacity="0.14"/><stop offset="1.0" stop-color="#4266ca" stop-opacity="0.00"/></radialGradient>
<radialGradient id="rg81"><stop offset="0" stop-color="#e45a2b" stop-opacity="1.00"/><stop offset="0.04" stop-color="#e6642d" stop-opacity="1.00"/><stop offset="0.08" stop-color="#e77f32" stop-opacity="1.00"/><stop offset="0.12" stop-color="#e3a03a" stop-opacity="1.00"/><stop offset="0.16" stop-color="#d0b544" stop-opacity="1.00"/><stop offset="0.2" stop-color="#b2be52" stop-opacity="0.99"/><stop offset="0.25" stop-color="#92bb66" stop-opacity="0.98"/><stop offset="0.3" stop-color="#76b47c" stop-opacity="0.97"/><stop offset="0.36" stop-color="#61a998" stop-opacity="0.95"/><stop offset="0.43" stop-color="#549cae" stop-opacity="0.92"/><stop offset="0.5" stop-color="#4c91bc" stop-opacity="0.88"/><stop offset="0.6" stop-color="#4881c3" stop-opacity="0.65"/><stop offset="0.7" stop-color="#4576c7" stop-opacity="0.37"/><stop offset="0.85" stop-color="#436cc9" stop-opacity="0.12"/><stop offset="1.0" stop-color="#4265ca" stop-opacity="0.00"/></radialGradient>
<radialGradient id="rg82"><stop offset="0" stop-color="#5ca79e" stop-opacity="1.00"/><stop offset="0.04" stop-color="#5ba5a0" stop-opacity="1.00"/><stop offset="0.08" stop-color="#57a1a7" stop-opacity="1.00"/><stop offset="0.12" stop-color="#539baf" stop-opacity="1.00"/><stop offset="0.16" stop-color="#4e94b9" stop-opacity="1.00"/><stop offset="0.2" stop-color="#4a8cbe" stop-opacity="0.99"/><stop offset="0.25" stop-color="#4882c2" stop-opacity="0.84"/><stop offset="0.3" stop-color="#467ac5" stop-opacity="0.63"/><stop offset="0.36" stop-color="#4472c8" stop-opacity="0.43"/><stop offset="0.43" stop-color="#436ac9" stop-opacity="0.27"/><stop offset="0.5" stop-color="#4265ca" stop-opacity="0.15"/><stop offset="0.6" stop-color="#4160cb" stop-opacity="0.04"/><stop offset="0.7" stop-color="#415ccb" stop-opacity="0.00"/><stop offset="0.85" stop-color="#4059cc" stop-opacity="0.00"/><stop offset="1.0" stop-color="#4057cc" stop-opacity="0.00"/></radialGradient>
<radialGradient id="rg83"><stop offset="0" stop-color="#66ac90" stop-opacity="1.00"/><stop offset="0.04" stop-color="#64ab93" stop-opacity="1.00"/><stop offset="0.08" stop-color="#5ea89b" stop-opacity="1.00"/><stop offset="0.12" stop-color="#58a2a6" stop-opacity="1.00"/><stop offset="0.16" stop-color="#529ab0" stop-opacity="1.00"/><stop offset="0.2" stop-color="#4d93ba" stop-opacity="0.99"/><stop offset="0.25" stop-color="#4988c0" stop-opacity="0.98"/><stop offset="0.3" stop-color="#477fc4" stop-opacity="0.75"/><stop offset="0.36" stop-color="#4576c7" stop-opacity="0.52"/><stop offset="0.43" stop-color="#436ec9" stop-opacity="0.34"/><stop offset="0.5" stop-color="#4268ca" stop-opacity="0.20"/><stop offset="0.6" stop-color="#4162cb" stop-opacity="0.08"/><stop offset="0.7" stop-color="#415ecb" stop-opacity="0.01"/><stop offset="0.85" stop-color="#405acc" stop-opacity="0.00"/><stop offset="1.0" stop-color="#4058cc" stop-opacity="0.00"/></radialGradient>
<radialGradient id="rg84"><stop offset="0" stop-color="#7cb677" stop-opacity="1.00"/><stop offset="0.04" stop-color="#79b57a" stop-opacity="1.00"/><stop offset="0.08" stop-color="#71b183" stop-opacity="1.00"/><stop offset="0.12" stop-color="#66ac91" stop-opacity="1.00"/><stop offset="0.16" stop-color="#5ba69f" stop-opacity="1.00"/><stop offset="0.2" stop-color="#559dac" stop-opacity="0.99"/><stop offset="0.25" stop-color="#4d94ba" stop-opacity="0.98"/><stop offset="0.3" stop-color="#4a89c0" stop-opacity="0.97"/><stop offset="0.36" stop-color="#477ec4" stop-opacity="0.71"/><stop offset="0.43" stop-color="#4474c8" stop-opacity="0.47"/><stop offset="0.5" stop-color="#436dc9" stop-opacity="0.31"/><stop offset="0.6" stop-color="#4266ca" stop-opacity="0.15"/><stop offset="0.7" stop-color="#4161cb" stop-opacity="0.05"/><stop offset="0.85" stop-color="#415ccb" stop-opacity="0.00"/><stop offset="1.0" stop-color="#4059cc" stop-opacity="0.00"/></radialGradient>
<radialGradient id="rg85"><stop offset="0" stop-color="#7cb677" stop-opacity="1.00"/><stop offset="0.04" stop-color="#79b57a" stop-opacity="1.00"/><stop offset="0.08" stop-color="#71b183" stop-opacity="1.00"/><stop offset="0.12" stop-color="#66ac91" stop-opacity="1.00"/><stop offset="0.16" stop-color="#5ba69f" stop-opacity="1.00"/><stop offset="0.2" stop-color="#559dac" stop-opacity="0.99"/><stop offset="0.25" stop-color="#4d94ba" stop-opacity="0.98"/><stop offset="0.3" stop-color="#4a89c0" stop-opacity="0.97"/><stop offset="0.36" stop-color="#477ec4" stop-opacity="0.71"/><stop offset="0.43" stop-color="#4474c8" stop-opacity="0.47"/><stop offset="0.5" stop-color="#436dc9" stop-opacity="0.31"/><stop offset="0.6" stop-color="#4266ca" stop-opacity="0.15"/><stop offset="0.7" stop-color="#4161cb" stop-opacity="0.05"/><stop offset="0.85" stop-color="#415ccb" stop-opacity="0.00"/><stop offset="1.0" stop-color="#4059cc" stop-opacity="0.00"/></radialGradient>
<radialGradient id="rg86"><stop offset="0" stop-color="#de3926" stop-opacity="1.00"/><stop offset="0.04" stop-color="#e14528" stop-opacity="1.00"/><stop offset="0.08" stop-color="#e7692e" stop-opacity="1.00"/><stop offset="0.12" stop-color="#e69737" stop-opacity="1.00"/><stop offset="0.16" stop-color="#d2b543" stop-opacity="1.00"/><stop offset="0.2" stop-color="#b0be53" stop-opacity="0.99"/><stop offset="0.25" stop-color="#8cba6a" stop-opacity="0.98"/><stop offset="0.3" stop-color="#70b183" stop-opacity="0.97"/><stop offset="0.36" stop-color="#5ba69f" stop-opacity="0.95"/><stop offset="0.43" stop-color="#5097b4" stop-opacity="0.92"/><stop offset="0.5" stop-color="#4a8bbf" stop-opacity="0.88"/><stop offset="0.6" stop-color="#467cc4" stop-opacity="0.56"/><stop offset="0.7" stop-color="#4473c8" stop-opacity="0.31"/><stop offset="0.85" stop-color="#4268ca" stop-opacity="0.10"/><stop offset="1.0" stop-color="#4262ca" stop-opacity="0.00"/></radialGradient>
<radialGradient id="rg87"><stop offset="0" stop-color="#dfa63c" stop-opacity="1.00"/><stop offset="0.04" stop-color="#dea73d" stop-opacity="1.00"/><stop offset="0.08" stop-color="#daac3f" stop-opacity="1.00"/><stop offset="0.12" stop-color="#d5b341" stop-opacity="1.00"/><stop offset="0.16" stop-color="#cab746" stop-opacity="1.00"/><stop offset="0.2" stop-color="#bdbb4c" stop-opacity="0.99"/><stop offset="0.25" stop-color="#acbd55" stop-opacity="0.98"/><stop offset="0.3" stop-color="#9abc60" stop-opacity="0.97"/><stop offset="0.36" stop-color="#86b86f" stop-opacity="0.95"/><stop offset="0.43" stop-color="#72b282" stop-opacity="0.92"/><stop offset="0.5" stop-color="#63aa95" stop-opacity="0.88"/><stop offset="0.6" stop-color="#569faa" stop-opacity="0.78"/><stop offset="0.7" stop-color="#4e94b9" stop-opacity="0.66"/><stop offset="0.85" stop-color="#4985c1" stop-opacity="0.35"/><stop offset="1.0" stop-color="#4679c6" stop-opacity="0.00"/></radialGradient>
<linearGradient id="cb" x1="0" x2="0" y1="1" y2="0"><stop offset="0.0000" stop-color="#3f51cd"/><stop offset="0.0919" stop-color="#4473c8"/><stop offset="0.1838" stop-color="#4c92bc"/><stop offset="0.2757" stop-color="#5ca79e"/><stop offset="0.3676" stop-color="#76b47c"/><stop offset="0.4596" stop-color="#96bc62"/><stop offset="0.5515" stop-color="#b5be50"/><stop offset="0.6434" stop-color="#d4b442"/><stop offset="0.7353" stop-color="#e69c38"/><stop offset="0.8272" stop-color="#e87430"/><stop offset="0.9191" stop-color="#e24828"/><stop offset="1.0000" stop-color="#da2624"/></linearGradient>
</defs>
<rect width="550" height="459" fill="#fff"/>
<rect x="117.4" y="93.9" width="309.1" height="316.7" fill="#3f51cd"/>
<g clip-path="url(#hc)">
<g mask="url(#vm)"><rect x="228.9" y="130" width="11.0" height="282" fill="url(#rip)" opacity="0.3" mask="url(#cm2)"/></g>
<g mask="url(#vm)"><rect x="250.4" y="130" width="10" height="282" fill="url(#rip)" opacity="0.5" mask="url(#cm4)"/></g>
<g mask="url(#vm)"><rect x="258.7" y="130" width="10" height="282" fill="url(#rip)" opacity="0.5" mask="url(#cm6)"/></g>
<g mask="url(#vm)"><rect x="211.0" y="130" width="90" height="282" fill="url(#rip)" opacity="0.08" mask="url(#cm8)"/></g>
<rect x="117.4" y="106.3" width="309.1" height="5.6" fill="url(#sg9)"/>
<ellipse cx="263" cy="190.1" rx="175" ry="2.6" fill="url(#sg10)"/>
<ellipse cx="245" cy="208.7" rx="135" ry="2.6" fill="url(#sg11)"/>
<ellipse cx="263" cy="243.5" rx="210" ry="2.6" fill="url(#sg12)"/>
<ellipse cx="245" cy="262.0" rx="120" ry="2.6" fill="url(#sg13)"/>
<ellipse cx="263" cy="281.1" rx="160" ry="2.6" fill="url(#sg14)"/>
<ellipse cx="250" cy="315.6" rx="260" ry="2.6" fill="url(#sg15)"/>
<ellipse cx="263" cy="333.9" rx="260" ry="2.6" fill="url(#sg16)"/>
<ellipse cx="250" cy="342.3" rx="75" ry="2.6" fill="url(#sg17)"/>
<ellipse cx="235" cy="361.1" rx="140" ry="2.6" fill="url(#sg18)"/>
<rect x="117.4" y="392.9" width="309.1" height="6.4" fill="url(#sg19)"/>
<ellipse cx="258" cy="396.1" rx="110" ry="3.6" fill="url(#b396)"/>
<ellipse cx="132.5" cy="109.1" rx="29.4" ry="2.7" fill="url(#wg20)"/>
<ellipse cx="141.8" cy="109.1" rx="29.4" ry="2.7" fill="url(#wg21)"/>
<ellipse cx="152" cy="109.1" rx="28.0" ry="2.7" fill="url(#wg22)"/>
<ellipse cx="162" cy="109.1" rx="28.3" ry="2.7" fill="url(#wg23)"/>
<ellipse cx="171.5" cy="109.1" rx="33.6" ry="2.8" fill="url(#wg24)"/>
<ellipse cx="194" cy="109.1" rx="33.2" ry="2.8" fill="url(#wg25)"/>
<ellipse cx="230" cy="109.1" rx="27.3" ry="2.6" fill="url(#wg26)"/>
<ellipse cx="237" cy="109.1" rx="27.2" ry="2.6" fill="url(#wg27)"/>
<ellipse cx="251.7" cy="109.1" rx="28.3" ry="2.7" fill="url(#wg28)"/>
<ellipse cx="257.5" cy="109.1" rx="28.3" ry="2.7" fill="url(#wg29)"/>
<ellipse cx="267" cy="109.1" rx="31.5" ry="2.8" fill="url(#wg30)"/>
<ellipse cx="276" cy="109.1" rx="29.8" ry="2.7" fill="url(#wg31)"/>
<ellipse cx="285" cy="109.1" rx="30.2" ry="2.7" fill="url(#wg32)"/>
<ellipse cx="295" cy="109.1" rx="33.6" ry="2.8" fill="url(#wg33)"/>
<ellipse cx="318" cy="109.1" rx="33.2" ry="2.8" fill="url(#wg34)"/>
<ellipse cx="356.4" cy="109.1" rx="29.3" ry="2.7" fill="url(#wg35)"/>
<ellipse cx="379" cy="109.1" rx="29.3" ry="2.7" fill="url(#wg36)"/>
<ellipse cx="387.8" cy="109.1" rx="28.7" ry="2.7" fill="url(#wg37)"/>
<ellipse cx="263.7" cy="190.1" rx="36.1" ry="2.7" fill="url(#wg38)"/>
<ellipse cx="234.4" cy="208.7" rx="34.8" ry="2.6" fill="url(#wg39)"/>
<ellipse cx="255.4" cy="208.7" rx="34.8" ry="2.6" fill="url(#wg40)"/>
<ellipse cx="263.7" cy="243.5" rx="36.1" ry="2.7" fill="url(#wg41)"/>
<ellipse cx="233.9" cy="262.0" rx="40.2" ry="2.8" fill="url(#wg42)"/>
<ellipse cx="255.4" cy="262.0" rx="46.7" ry="3.0" fill="url(#wg43)"/>
<ellipse cx="263.7" cy="281.1" rx="34.8" ry="2.6" fill="url(#wg44)"/>
<ellipse cx="234.4" cy="315.6" rx="39.0" ry="2.8" fill="url(#wg45)"/>
<ellipse cx="255.4" cy="315.6" rx="45.2" ry="2.9" fill="url(#wg46)"/>
<ellipse cx="263.7" cy="333.9" rx="44.0" ry="2.9" fill="url(#wg47)"/>
<ellipse cx="234.4" cy="342.3" rx="30.2" ry="2.5" fill="url(#wg48)"/>
<ellipse cx="263.7" cy="342.3" rx="31.1" ry="2.5" fill="url(#wg49)"/>
<ellipse cx="234.4" cy="361.1" rx="32.8" ry="2.6" fill="url(#wg50)"/>
<ellipse cx="255.4" cy="361.1" rx="32.8" ry="2.6" fill="url(#wg51)"/>
<ellipse cx="263.7" cy="396.1" rx="45.7" ry="2.9" fill="url(#wg52)"/>
<ellipse cx="254.6" cy="396.1" rx="39.8" ry="2.8" fill="url(#wg53)"/>
<ellipse cx="132.5" cy="109.1" rx="15.0" ry="5.4" fill="url(#rg54)"/>
<ellipse cx="141.8" cy="109.1" rx="15.0" ry="5.4" fill="url(#rg55)"/>
<ellipse cx="152" cy="109.1" rx="15.0" ry="5.4" fill="url(#rg56)"/>
<ellipse cx="162" cy="109.1" rx="15.0" ry="5.4" fill="url(#rg57)"/>
<ellipse cx="171.5" cy="109.1" rx="15.0" ry="5.4" fill="url(#rg58)"/>
<ellipse cx="194" cy="109.1" rx="15.0" ry="5.4" fill="url(#rg59)"/>
<ellipse cx="230" cy="109.1" rx="15.0" ry="5.4" fill="url(#rg60)"/>
<ellipse cx="237" cy="109.1" rx="15.0" ry="5.4" fill="url(#rg61)"/>
<ellipse cx="251.7" cy="109.1" rx="15.0" ry="5.4" fill="url(#rg62)"/>
<ellipse cx="257.5" cy="109.1" rx="15.0" ry="5.4" fill="url(#rg63)"/>
<ellipse cx="267" cy="109.1" rx="15.0" ry="5.4" fill="url(#rg64)"/>
<ellipse cx="276" cy="109.1" rx="15.0" ry="5.4" fill="url(#rg65)"/>
<ellipse cx="285" cy="109.1" rx="15.0" ry="5.4" fill="url(#rg66)"/>
<ellipse cx="295" cy="109.1" rx="15.0" ry="5.4" fill="url(#rg67)"/>
<ellipse cx="318" cy="109.1" rx="15.0" ry="5.4" fill="url(#rg68)"/>
<ellipse cx="356.4" cy="109.1" rx="15.0" ry="5.4" fill="url(#rg69)"/>
<ellipse cx="379" cy="109.1" rx="15.0" ry="5.4" fill="url(#rg70)"/>
<ellipse cx="387.8" cy="109.1" rx="15.0" ry="5.4" fill="url(#rg71)"/>
<ellipse cx="263.7" cy="190.1" rx="15.0" ry="6.3" fill="url(#rg72)"/>
<ellipse cx="234.4" cy="208.7" rx="15.0" ry="6.3" fill="url(#rg73)"/>
<ellipse cx="255.4" cy="208.7" rx="15.0" ry="6.3" fill="url(#rg74)"/>
<ellipse cx="263.7" cy="243.5" rx="15.0" ry="6.3" fill="url(#rg75)"/>
<ellipse cx="233.9" cy="262.0" rx="13.0" ry="9.4" fill="url(#rg76)"/>
<ellipse cx="255.4" cy="262.0" rx="13.0" ry="9.8" fill="url(#rg77)"/>
<ellipse cx="263.7" cy="281.1" rx="15.0" ry="6.3" fill="url(#rg78)"/>
<ellipse cx="234.4" cy="315.6" rx="15.0" ry="7.5" fill="url(#rg79)"/>
<ellipse cx="255.4" cy="315.6" rx="15.0" ry="7.5" fill="url(#rg80)"/>
<ellipse cx="263.7" cy="333.9" rx="15.0" ry="7.5" fill="url(#rg81)"/>
<ellipse cx="234.4" cy="342.3" rx="15.0" ry="6.3" fill="url(#rg82)"/>
<ellipse cx="263.7" cy="342.3" rx="15.0" ry="6.3" fill="url(#rg83)"/>
<ellipse cx="234.4" cy="361.1" rx="15.0" ry="6.3" fill="url(#rg84)"/>
<ellipse cx="255.4" cy="361.1" rx="15.0" ry="6.3" fill="url(#rg85)"/>
<ellipse cx="263.7" cy="396.1" rx="15.0" ry="7.5" fill="url(#rg86)"/>
<ellipse cx="254.6" cy="396.1" rx="9.0" ry="4.5" fill="url(#rg87)"/>
</g>
<rect x="110.6" y="87.4" width="322.3" height="329.4" fill="none" stroke="#a4a4a4" stroke-width="1"/>
<path d="M117.3 87.4v3.6M117.3 416.8v-3.6M129.7 87.4v2.0M129.7 416.8v-2.0M142.1 87.4v2.0M142.1 416.8v-2.0M154.5 87.4v2.0M154.5 416.8v-2.0M166.9 87.4v2.0M166.9 416.8v-2.0M179.2 87.4v3.6M179.2 416.8v-3.6M191.6 87.4v2.0M191.6 416.8v-2.0M204.0 87.4v2.0M204.0 416.8v-2.0M216.4 87.4v2.0M216.4 416.8v-2.0M228.8 87.4v2.0M228.8 416.8v-2.0M241.2 87.4v3.6M241.2 416.8v-3.6M253.6 87.4v2.0M253.6 416.8v-2.0M266.0 87.4v2.0M266.0 416.8v-2.0M278.3 87.4v2.0M278.3 416.8v-2.0M290.7 87.4v2.0M290.7 416.8v-2.0M303.1 87.4v3.6M303.1 416.8v-3.6M315.5 87.4v2.0M315.5 416.8v-2.0M327.9 87.4v2.0M327.9 416.8v-2.0M340.3 87.4v2.0M340.3 416.8v-2.0M352.7 87.4v2.0M352.7 416.8v-2.0M365.1 87.4v3.6M365.1 416.8v-3.6M377.4 87.4v2.0M377.4 416.8v-2.0M389.8 87.4v2.0M389.8 416.8v-2.0M402.2 87.4v2.0M402.2 416.8v-2.0M414.6 87.4v2.0M414.6 416.8v-2.0M427.0 87.4v3.6M427.0 416.8v-3.6M110.6 399.5h2.0M432.9 399.5h-2.0M110.6 384.2h2.0M432.9 384.2h-2.0M110.6 369.0h2.0M432.9 369.0h-2.0M110.6 353.7h2.0M432.9 353.7h-2.0M110.6 338.4h3.6M432.9 338.4h-3.6M110.6 323.1h2.0M432.9 323.1h-2.0M110.6 307.8h2.0M432.9 307.8h-2.0M110.6 292.6h2.0M432.9 292.6h-2.0M110.6 277.3h2.0M432.9 277.3h-2.0M110.6 262.0h3.6M432.9 262.0h-3.6M110.6 246.7h2.0M432.9 246.7h-2.0M110.6 231.4h2.0M432.9 231.4h-2.0M110.6 216.2h2.0M432.9 216.2h-2.0M110.6 200.9h2.0M432.9 200.9h-2.0M110.6 185.6h3.6M432.9 185.6h-3.6M110.6 170.3h2.0M432.9 170.3h-2.0M110.6 155.0h2.0M432.9 155.0h-2.0M110.6 139.8h2.0M432.9 139.8h-2.0M110.6 124.5h2.0M432.9 124.5h-2.0M110.6 109.2h3.6M432.9 109.2h-3.6" stroke="#666" stroke-width="0.6" fill="none"/>
<rect x="116.6" y="27.0" width="309.7" height="55.8" fill="none" stroke="#a4a4a4" stroke-width="1"/>
<path d="M116.6 27.0v3.4M116.6 82.8v-3.4M122.8 27.0v1.8M122.8 82.8v-1.8M129.0 27.0v1.8M129.0 82.8v-1.8M135.2 27.0v1.8M135.2 82.8v-1.8M141.4 27.0v1.8M141.4 82.8v-1.8M147.6 27.0v1.8M147.6 82.8v-1.8M153.8 27.0v1.8M153.8 82.8v-1.8M160.0 27.0v1.8M160.0 82.8v-1.8M166.2 27.0v1.8M166.2 82.8v-1.8M172.3 27.0v1.8M172.3 82.8v-1.8M178.5 27.0v3.4M178.5 82.8v-3.4M184.7 27.0v1.8M184.7 82.8v-1.8M190.9 27.0v1.8M190.9 82.8v-1.8M197.1 27.0v1.8M197.1 82.8v-1.8M203.3 27.0v1.8M203.3 82.8v-1.8M209.5 27.0v1.8M209.5 82.8v-1.8M215.7 27.0v1.8M215.7 82.8v-1.8M221.9 27.0v1.8M221.9 82.8v-1.8M228.1 27.0v1.8M228.1 82.8v-1.8M234.3 27.0v1.8M234.3 82.8v-1.8M240.5 27.0v3.4M240.5 82.8v-3.4M246.7 27.0v1.8M246.7 82.8v-1.8M252.9 27.0v1.8M252.9 82.8v-1.8M259.1 27.0v1.8M259.1 82.8v-1.8M265.3 27.0v1.8M265.3 82.8v-1.8M271.4 27.0v1.8M271.4 82.8v-1.8M277.6 27.0v1.8M277.6 82.8v-1.8M283.8 27.0v1.8M283.8 82.8v-1.8M290.0 27.0v1.8M290.0 82.8v-1.8M296.2 27.0v1.8M296.2 82.8v-1.8M302.4 27.0v3.4M302.4 82.8v-3.4M308.6 27.0v1.8M308.6 82.8v-1.8M314.8 27.0v1.8M314.8 82.8v-1.8M321.0 27.0v1.8M321.0 82.8v-1.8M327.2 27.0v1.8M327.2 82.8v-1.8M333.4 27.0v1.8M333.4 82.8v-1.8M339.6 27.0v1.8M339.6 82.8v-1.8M345.8 27.0v1.8M345.8 82.8v-1.8M352.0 27.0v1.8M352.0 82.8v-1.8M358.2 27.0v1.8M358.2 82.8v-1.8M364.4 27.0v3.4M364.4 82.8v-3.4M370.6 27.0v1.8M370.6 82.8v-1.8M376.7 27.0v1.8M376.7 82.8v-1.8M382.9 27.0v1.8M382.9 82.8v-1.8M389.1 27.0v1.8M389.1 82.8v-1.8M395.3 27.0v1.8M395.3 82.8v-1.8M401.5 27.0v1.8M401.5 82.8v-1.8M407.7 27.0v1.8M407.7 82.8v-1.8M413.9 27.0v1.8M413.9 82.8v-1.8M420.1 27.0v1.8M420.1 82.8v-1.8M426.3 27.0v3.4M426.3 82.8v-3.4M116.6 82.0h3.0M426.3 82.0h-3.0M116.6 69.8h1.8M426.3 69.8h-1.8M116.6 57.6h3.0M426.3 57.6h-3.0M116.6 45.4h1.8M426.3 45.4h-1.8M116.6 33.2h3.0M426.3 33.2h-3.0" stroke="#666" stroke-width="0.6" fill="none"/>
<rect x="53.5" y="93.7" width="52.2" height="320.8" fill="none" stroke="#a4a4a4" stroke-width="1"/>
<path d="M53.5 407.2h1.8M105.7 407.2h-1.8M53.5 399.5h1.8M105.7 399.5h-1.8M53.5 391.9h1.8M105.7 391.9h-1.8M53.5 384.2h1.8M105.7 384.2h-1.8M53.5 376.6h1.8M105.7 376.6h-1.8M53.5 369.0h1.8M105.7 369.0h-1.8M53.5 361.3h1.8M105.7 361.3h-1.8M53.5 353.7h1.8M105.7 353.7h-1.8M53.5 346.0h1.8M105.7 346.0h-1.8M53.5 338.4h3.0M105.7 338.4h-3.0M53.5 330.8h1.8M105.7 330.8h-1.8M53.5 323.1h1.8M105.7 323.1h-1.8M53.5 315.5h1.8M105.7 315.5h-1.8M53.5 307.8h1.8M105.7 307.8h-1.8M53.5 300.2h1.8M105.7 300.2h-1.8M53.5 292.6h1.8M105.7 292.6h-1.8M53.5 284.9h1.8M105.7 284.9h-1.8M53.5 277.3h1.8M105.7 277.3h-1.8M53.5 269.6h1.8M105.7 269.6h-1.8M53.5 262.0h3.0M105.7 262.0h-3.0M53.5 254.4h1.8M105.7 254.4h-1.8M53.5 246.7h1.8M105.7 246.7h-1.8M53.5 239.1h1.8M105.7 239.1h-1.8M53.5 231.4h1.8M105.7 231.4h-1.8M53.5 223.8h1.8M105.7 223.8h-1.8M53.5 216.2h1.8M105.7 216.2h-1.8M53.5 208.5h1.8M105.7 208.5h-1.8M53.5 200.9h1.8M105.7 200.9h-1.8M53.5 193.2h1.8M105.7 193.2h-1.8M53.5 185.6h3.0M105.7 185.6h-3.0M53.5 178.0h1.8M105.7 178.0h-1.8M53.5 170.3h1.8M105.7 170.3h-1.8M53.5 162.7h1.8M105.7 162.7h-1.8M53.5 155.0h1.8M105.7 155.0h-1.8M53.5 147.4h1.8M105.7 147.4h-1.8M53.5 139.8h1.8M105.7 139.8h-1.8M53.5 132.1h1.8M105.7 132.1h-1.8M53.5 124.5h1.8M105.7 124.5h-1.8M53.5 116.8h1.8M105.7 116.8h-1.8M53.5 109.2h3.0M105.7 109.2h-3.0M53.5 101.6h1.8M105.7 101.6h-1.8M62.0 93.7v3M62.0 414.5v-3M84.0 93.7v3M84.0 414.5v-3" stroke="#666" stroke-width="0.6" fill="none"/>
<path d="M117.0 82.0L117.8 82.0L118.7 82.0L119.5 81.9L120.3 81.9L121.2 81.9L122.0 81.8L122.8 81.8L123.7 81.7L124.5 81.6L125.0 81.6L125.3 81.6L126.2 81.4L127.0 81.3L127.8 81.1L128.7 80.9L129.5 80.7L130.3 80.6L131.0 80.6L131.2 80.6L132.0 80.7L132.8 80.8L133.7 81.0L134.5 81.1L135.0 81.1L135.3 81.1L136.2 81.0L137.0 80.8L137.8 80.6L138.7 80.4L139.5 80.3L140.0 80.3L140.3 80.3L141.2 80.3L142.0 80.3L142.8 80.4L143.7 80.4L144.5 80.4L145.3 80.5L146.2 80.5L147.0 80.5L147.8 80.6L148.6 80.6L149.5 80.6L150.0 80.6L150.3 80.6L151.1 80.6L152.0 80.6L152.8 80.5L153.6 80.5L154.5 80.5L155.3 80.4L156.1 80.4L157.0 80.3L157.8 80.3L158.6 80.2L159.5 80.1L160.0 80.1L160.3 80.1L161.1 80.0L162.0 79.9L162.8 79.8L163.6 79.7L164.5 79.5L165.3 79.4L166.0 79.2L166.1 79.2L167.0 78.8L167.8 78.3L168.6 77.8L169.5 77.3L170.3 76.9L171.0 76.8L171.1 76.8L172.0 77.0L172.8 77.4L173.6 77.9L174.5 78.4L175.3 78.8L176.0 79.0L176.1 79.0L177.0 79.1L177.8 79.1L178.6 79.2L179.5 79.2L180.3 79.3L181.1 79.3L182.0 79.3L182.8 79.3L183.0 79.3L183.6 79.3L184.5 79.2L185.3 79.1L186.1 78.9L187.0 78.7L187.8 78.5L188.0 78.5L188.6 78.3L189.5 77.8L190.3 77.2L191.1 76.6L192.0 76.2L192.8 76.0L192.9 76.0L193.6 76.1L194.5 76.6L195.3 77.1L196.1 77.7L197.0 78.2L197.8 78.5L198.0 78.5L198.6 78.5L199.5 78.5L200.3 78.5L201.1 78.5L202.0 78.4L202.8 78.4L203.6 78.4L204.5 78.3L205.0 78.3L205.3 78.3L206.1 78.2L207.0 78.2L207.8 78.1L208.6 78.0L209.5 77.9L210.3 77.8L211.1 77.7L211.9 77.5L212.8 77.4L213.6 77.2L214.4 77.1L215.0 77.0L215.3 77.0L216.1 76.8L216.9 76.7L217.8 76.5L218.6 76.3L219.4 76.1L220.3 75.8L221.1 75.6L221.9 75.2L222.0 75.2L222.8 74.8L223.6 74.1L224.4 73.2L225.3 72.1L226.1 70.9L226.9 69.6L227.0 69.5L227.8 67.8L228.6 65.3L229.4 62.6L230.0 61.0L230.3 60.2L231.1 57.4L231.9 54.8L232.8 53.2L233.1 53.0L233.6 53.6L234.4 56.4L235.3 59.8L236.0 62.0L236.1 62.2L236.9 63.6L237.8 64.9L238.6 65.8L239.4 66.6L239.5 66.6L240.3 67.1L241.1 67.5L241.9 67.7L242.0 67.7L242.8 67.5L243.6 67.0L244.4 66.3L244.5 66.2L245.3 65.0L246.1 63.0L246.5 62.0L246.9 60.9L247.8 58.6L248.6 56.0L249.0 54.6L249.4 53.0L250.3 49.4L251.1 45.7L251.6 43.5L251.9 42.0L252.8 37.8L253.6 34.1L254.3 32.9L254.4 33.0L255.3 35.7L256.1 40.1L256.5 42.0L256.9 43.8L257.8 47.6L258.6 49.4L258.6 49.4L259.4 47.4L260.3 43.4L260.6 42.0L261.1 40.0L261.9 36.5L262.8 34.7L262.8 34.7L263.6 36.9L264.4 41.9L264.8 44.0L265.3 46.5L266.1 51.5L266.6 54.0L266.9 55.2L267.8 58.2L268.6 60.6L269.4 62.6L269.5 62.8L270.3 64.3L271.1 65.7L271.9 66.9L272.7 67.9L273.2 68.4L273.6 68.8L274.4 69.5L275.2 70.1L276.1 70.7L276.9 71.2L277.7 71.6L278.6 72.0L279.0 72.2L279.4 72.4L280.2 72.7L281.1 73.0L281.9 73.3L282.7 73.5L283.6 73.7L284.4 73.8L284.8 73.9L285.2 74.0L286.1 74.1L286.9 74.2L287.7 74.2L288.6 74.3L289.4 74.3L289.5 74.3L290.2 74.2L291.1 73.8L291.9 73.4L292.0 73.4L292.7 72.9L293.6 72.2L294.4 71.7L294.6 71.7L295.2 72.0L296.1 72.9L296.9 73.9L297.5 74.5L297.7 74.7L298.6 75.2L299.4 75.7L300.2 76.2L301.1 76.5L301.9 76.8L302.0 76.8L302.7 76.9L303.6 77.1L304.4 77.2L305.2 77.3L306.1 77.4L306.9 77.5L307.7 77.5L308.0 77.5L308.6 77.5L309.4 77.5L310.2 77.4L311.1 77.3L311.9 77.2L312.7 77.0L313.0 77.0L313.6 76.8L314.4 76.3L315.2 75.7L316.1 75.3L316.5 75.2L316.9 75.3L317.7 75.7L318.6 76.3L319.4 77.0L320.0 77.3L320.2 77.4L321.1 77.7L321.9 78.0L322.7 78.2L323.6 78.5L324.4 78.7L325.2 78.9L326.0 79.0L326.1 79.0L326.9 79.1L327.7 79.3L328.6 79.4L329.4 79.5L330.2 79.6L331.1 79.7L331.9 79.8L332.7 79.8L333.5 79.9L334.4 80.0L335.0 80.0L335.2 80.0L336.0 80.1L336.9 80.1L337.7 80.1L338.5 80.2L339.4 80.2L340.2 80.3L341.0 80.3L341.9 80.3L342.7 80.4L343.5 80.4L344.4 80.4L345.2 80.4L346.0 80.5L346.9 80.5L347.7 80.5L348.5 80.5L349.4 80.5L350.0 80.5L350.2 80.5L351.0 80.5L351.9 80.4L352.7 80.3L353.5 80.2L354.4 80.1L355.2 80.0L356.0 80.0L356.0 80.0L356.9 80.0L357.7 80.1L358.5 80.3L359.4 80.5L360.2 80.6L361.0 80.7L361.9 80.8L362.0 80.8L362.7 80.8L363.5 80.8L364.4 80.8L365.2 80.9L366.0 80.9L366.9 80.9L367.7 80.9L368.5 80.9L369.4 80.9L370.2 80.9L371.0 80.9L371.9 80.9L372.0 80.9L372.7 80.9L373.5 80.8L374.4 80.7L375.2 80.6L376.0 80.5L376.9 80.4L377.7 80.3L378.0 80.3L378.5 80.3L379.4 80.4L380.2 80.6L381.0 80.8L381.9 80.9L382.7 81.0L383.0 81.0L383.5 81.0L384.4 80.9L385.2 80.7L386.0 80.6L386.9 80.5L387.0 80.5L387.7 80.5L388.5 80.6L389.4 80.8L390.2 81.0L391.0 81.1L391.9 81.2L392.0 81.2L392.7 81.2L393.5 81.2L394.4 81.3L395.2 81.3L396.0 81.3L396.8 81.3L397.7 81.4L398.5 81.4L399.3 81.4L400.2 81.4L401.0 81.4L401.8 81.4L402.7 81.4L403.5 81.4L404.3 81.4L405.2 81.5L406.0 81.5L406.8 81.5L407.7 81.5L408.5 81.5L409.3 81.5L410.0 81.5L410.2 81.5L411.0 81.5L411.8 81.5L412.7 81.5L413.5 81.5L414.3 81.5L415.2 81.5L416.0 81.6L416.8 81.6L417.7 81.6L418.5 81.6L419.3 81.6L420.2 81.6L421.0 81.6L421.8 81.6L422.7 81.6L423.5 81.6L424.3 81.6L425.2 81.6L426.0 81.6" fill="none" stroke="#0b1f8c" stroke-width="2.3" stroke-linejoin="round" stroke-linecap="round"/>
<path d="M103.8 94.2L103.4 94.5L103.1 94.9L102.8 95.2L103.1 95.6L103.4 95.9L103.7 96.3L104.0 96.6L103.6 97.0L103.1 97.3L102.6 97.7L102.2 98.0L102.6 98.4L103.0 98.7L103.5 99.1L103.8 99.4L103.2 99.8L102.6 100.1L101.9 100.5L101.3 100.8L101.8 101.2L102.4 101.5L102.9 101.9L103.3 102.2L102.5 102.6L101.6 102.9L100.5 103.3L99.6 103.6L100.2 104.0L100.9 104.3L101.5 104.7L101.9 105.0L100.5 105.4L98.9 105.7L97.1 106.1L95.6 106.4L95.6 106.8L95.1 107.1L93.6 107.5L90.6 107.8L84.6 108.2L76.6 108.5L67.2 108.9L61.6 109.2L65.0 109.6L74.0 109.9L82.8 110.3L89.2 110.6L92.6 111.0L94.3 111.3L95.0 111.7L95.3 112.0L97.2 112.4L99.0 112.7L100.6 113.1L101.8 113.4L101.2 113.8L100.5 114.1L99.9 114.5L99.6 114.8L100.7 115.2L101.7 115.5L102.7 115.9L103.3 116.2L102.7 116.6L102.1 116.9L101.6 117.3L101.3 117.6L102.0 118.0L102.7 118.3L103.3 118.7L103.8 119.0L103.3 119.4L102.9 119.7L102.4 120.1L102.2 120.4L102.7 120.8L103.2 121.1L103.7 121.5L104.0 121.8L103.6 122.2L103.3 122.5L102.9 122.9L102.7 123.2L103.1 123.6L103.5 123.9L103.8 124.3L104.1 124.6L103.8 125.0L103.5 125.3L103.3 125.7L103.1 126.0L103.4 126.4L103.7 126.7L103.9 127.1L104.1 127.4L103.9 127.8L103.7 128.1L103.4 128.5L103.3 128.8L103.5 129.2L103.8 129.5L104.0 129.9L104.2 130.2L104.0 130.6L103.8 130.9L103.6 131.3L103.4 131.6L103.7 132.0L103.8 132.3L104.0 132.7L104.2 133.0L104.0 133.4L103.8 133.7L103.7 134.1L103.5 134.4L103.7 134.8L103.9 135.1L104.1 135.5L104.2 135.8L104.0 136.2L103.9 136.5L103.7 136.9L103.6 137.2L103.8 137.6L103.9 137.9L104.1 138.3L104.2 138.6L104.0 139.0L103.9 139.3L103.7 139.7L103.6 140.0L103.8 140.4L103.9 140.7L104.1 141.1L104.2 141.4L104.1 141.8L103.9 142.1L103.8 142.5L103.7 142.8L103.8 143.2L104.0 143.5L104.1 143.9L104.2 144.2L104.1 144.6L103.9 144.9L103.8 145.3L103.7 145.6L103.8 146.0L104.0 146.3L104.1 146.7L104.2 147.0L104.1 147.4L103.9 147.7L103.8 148.1L103.7 148.4L103.8 148.8L104.0 149.1L104.1 149.5L104.2 149.8L104.1 150.2L103.9 150.5L103.8 150.9L103.7 151.2L103.8 151.6L104.0 151.9L104.1 152.3L104.2 152.6L104.1 153.0L103.9 153.3L103.8 153.7L103.7 154.0L103.8 154.4L104.0 154.7L104.1 155.1L104.2 155.4L104.1 155.8L103.9 156.1L103.8 156.5L103.7 156.8L103.8 157.2L104.0 157.5L104.1 157.9L104.2 158.2L104.1 158.6L103.9 158.9L103.8 159.3L103.7 159.6L103.8 160.0L104.0 160.3L104.1 160.7L104.2 161.0L104.1 161.4L103.9 161.7L103.8 162.1L103.7 162.4L103.8 162.8L103.9 163.1L104.1 163.5L104.2 163.8L104.0 164.2L103.9 164.5L103.7 164.9L103.6 165.2L103.8 165.6L103.9 165.9L104.1 166.3L104.2 166.6L104.0 167.0L103.9 167.3L103.7 167.7L103.6 168.0L103.7 168.4L103.9 168.7L104.1 169.1L104.2 169.4L104.0 169.8L103.8 170.1L103.6 170.5L103.5 170.8L103.7 171.2L103.8 171.5L104.0 171.9L104.2 172.2L104.0 172.6L103.8 172.9L103.6 173.3L103.4 173.6L103.6 174.0L103.8 174.3L104.0 174.7L104.1 175.0L103.9 175.4L103.7 175.7L103.4 176.1L103.2 176.4L103.4 176.8L103.7 177.1L103.9 177.5L104.1 177.8L103.8 178.2L103.5 178.5L103.2 178.9L103.0 179.2L103.2 179.6L103.5 179.9L103.7 180.3L103.9 180.6L103.6 181.0L103.2 181.3L102.8 181.7L102.5 182.0L102.8 182.4L103.1 182.7L103.4 183.1L103.7 183.4L103.2 183.8L102.7 184.1L102.1 184.5L101.6 184.8L101.9 185.2L102.3 185.5L102.5 185.9L102.7 186.2L101.9 186.6L101.1 186.9L100.2 187.3L99.4 187.6L98.9 188.0L98.0 188.3L96.6 188.7L94.7 189.0L92.5 189.4L91.2 189.7L91.6 190.1L93.2 190.4L95.5 190.8L97.5 191.1L99.2 191.5L100.5 191.8L100.8 192.2L100.8 192.5L100.7 192.9L100.5 193.2L101.3 193.6L102.0 193.9L102.7 194.3L103.2 194.6L102.7 195.0L102.3 195.3L101.8 195.7L101.5 196.0L102.1 196.4L102.7 196.7L103.2 197.1L103.6 197.4L103.1 197.8L102.6 198.1L102.1 198.5L101.7 198.8L102.2 199.2L102.7 199.5L103.2 199.9L103.5 200.2L103.0 200.6L102.4 200.9L101.8 201.3L101.3 201.6L101.8 202.0L102.2 202.3L102.7 202.7L102.9 203.0L102.2 203.4L101.4 203.7L100.6 204.1L99.9 204.4L100.1 204.8L100.1 205.1L99.8 205.5L99.0 205.8L97.2 206.2L94.9 206.5L92.3 206.9L89.6 207.2L88.3 207.6L89.0 207.9L91.3 208.3L94.1 208.6L96.2 209.0L97.6 209.3L98.4 209.7L98.9 210.0L100.0 210.4L100.9 210.7L101.8 211.1L102.5 211.4L102.2 211.8L101.9 212.1L101.5 212.5L101.4 212.8L102.0 213.2L102.6 213.5L103.2 213.9L103.5 214.2L103.2 214.6L102.8 214.9L102.5 215.3L102.3 215.6L102.8 216.0L103.2 216.3L103.6 216.7L103.9 217.0L103.5 217.4L103.2 217.7L103.0 218.1L102.8 218.4L103.1 218.8L103.4 219.1L103.8 219.5L104.0 219.8L103.7 220.2L103.4 220.5L103.2 220.9L103.0 221.2L103.3 221.6L103.6 221.9L103.8 222.3L104.0 222.6L103.8 223.0L103.5 223.3L103.3 223.7L103.1 224.0L103.4 224.4L103.6 224.7L103.9 225.1L104.0 225.4L103.8 225.8L103.5 226.1L103.3 226.5L103.1 226.8L103.4 227.2L103.6 227.5L103.8 227.9L104.0 228.2L103.8 228.6L103.5 228.9L103.2 229.3L103.0 229.6L103.3 230.0L103.5 230.3L103.8 230.7L104.0 231.0L103.7 231.4L103.3 231.7L103.0 232.1L102.8 232.4L103.0 232.8L103.3 233.1L103.6 233.5L103.8 233.8L103.5 234.2L103.1 234.5L102.6 234.9L102.3 235.2L102.6 235.6L102.9 235.9L103.3 236.3L103.5 236.6L103.0 237.0L102.4 237.3L101.8 237.7L101.3 238.0L101.6 238.4L102.0 238.7L102.3 239.1L102.4 239.4L101.5 239.8L100.6 240.1L99.7 240.5L98.7 240.8L98.1 241.2L97.1 241.5L95.5 241.9L93.2 242.2L90.6 242.6L89.2 242.9L89.7 243.3L91.6 243.6L94.2 244.0L96.5 244.3L98.4 244.7L99.9 245.0L100.3 245.4L100.3 245.7L100.2 246.1L100.1 246.4L100.9 246.8L101.7 247.1L102.4 247.5L103.0 247.8L102.5 248.2L102.0 248.5L101.5 248.9L101.2 249.2L101.8 249.6L102.4 249.9L103.0 250.3L103.4 250.6L102.9 251.0L102.4 251.3L101.8 251.7L101.4 252.0L102.0 252.4L102.5 252.7L103.0 253.1L103.4 253.4L102.8 253.8L102.1 254.1L101.5 254.5L100.9 254.8L101.4 255.2L101.9 255.5L102.4 255.9L102.7 256.2L101.9 256.6L101.0 256.9L100.1 257.3L99.3 257.6L99.5 258.0L99.6 258.3L99.5 258.7L98.8 259.0L96.9 259.4L94.5 259.7L91.7 260.1L88.3 260.4L85.5 260.8L84.1 261.1L85.3 261.5L88.4 261.8L91.4 262.2L93.9 262.5L95.5 262.9L96.6 263.2L98.1 263.6L99.4 263.9L100.6 264.3L101.6 264.6L101.3 265.0L101.0 265.3L100.5 265.7L100.3 266.0L101.1 266.4L101.9 266.7L102.6 267.1L103.2 267.4L102.7 267.8L102.2 268.1L101.7 268.5L101.3 268.8L102.0 269.2L102.5 269.5L103.1 269.9L103.5 270.2L103.0 270.6L102.5 270.9L102.0 271.3L101.6 271.6L102.1 272.0L102.6 272.3L103.1 272.7L103.4 273.0L102.9 273.4L102.3 273.7L101.7 274.1L101.2 274.4L101.7 274.8L102.1 275.1L102.5 275.5L102.8 275.8L102.0 276.2L101.3 276.5L100.5 276.9L99.8 277.2L99.8 277.6L99.5 277.9L98.9 278.3L97.7 278.6L95.5 279.0L93.1 279.3L91.0 279.7L90.3 280.0L91.5 280.4L93.8 280.7L96.2 281.1L98.2 281.4L99.2 281.8L99.7 282.1L100.0 282.5L100.1 282.8L100.9 283.2L101.6 283.5L102.4 283.9L102.9 284.2L102.6 284.6L102.2 284.9L101.9 285.3L101.7 285.6L102.2 286.0L102.8 286.3L103.3 286.7L103.6 287.0L103.3 287.4L102.9 287.7L102.6 288.1L102.4 288.4L102.8 288.8L103.2 289.1L103.6 289.5L103.8 289.8L103.5 290.2L103.2 290.5L102.9 290.9L102.7 291.2L103.1 291.6L103.4 291.9L103.7 292.3L103.9 292.6L103.6 293.0L103.3 293.3L103.1 293.7L102.9 294.0L103.2 294.4L103.4 294.7L103.7 295.1L103.9 295.4L103.6 295.8L103.4 296.1L103.1 296.5L102.9 296.8L103.1 297.2L103.4 297.5L103.7 297.9L103.9 298.2L103.6 298.6L103.3 298.9L103.0 299.3L102.7 299.6L103.0 300.0L103.3 300.3L103.6 300.7L103.8 301.0L103.4 301.4L103.1 301.7L102.7 302.1L102.4 302.4L102.7 302.8L103.0 303.1L103.3 303.5L103.6 303.8L103.1 304.2L102.7 304.5L102.2 304.9L101.8 305.2L102.1 305.6L102.5 305.9L102.9 306.3L103.1 306.6L102.5 307.0L101.9 307.3L101.2 307.7L100.6 308.0L101.0 308.4L101.4 308.7L101.8 309.1L102.0 309.4L101.1 309.8L100.1 310.1L99.0 310.5L98.1 310.8L98.2 311.2L98.2 311.5L98.0 311.9L97.2 312.2L95.2 312.6L92.8 312.9L89.8 313.3L86.4 313.6L82.8 314.0L78.7 314.3L75.4 314.7L74.5 315.0L76.2 315.4L79.8 315.7L83.8 316.1L87.2 316.4L90.6 316.8L93.3 317.1L95.7 317.5L97.5 317.8L97.9 318.2L97.9 318.5L97.8 318.9L97.7 319.2L98.9 319.6L100.0 319.9L101.0 320.3L101.8 320.6L101.3 321.0L100.7 321.3L100.1 321.7L99.7 322.0L100.5 322.4L101.3 322.7L102.1 323.1L102.7 323.4L102.0 323.8L101.3 324.1L100.6 324.5L100.1 324.8L100.8 325.2L101.5 325.5L102.1 325.9L102.6 326.2L101.8 326.6L101.0 326.9L100.1 327.3L99.4 327.6L100.0 328.0L100.6 328.3L101.2 328.7L101.5 329.0L100.4 329.4L99.2 329.7L97.9 330.1L96.8 330.4L96.9 330.8L96.8 331.1L96.3 331.5L95.1 331.8L92.3 332.2L89.0 332.5L85.1 332.9L80.9 333.2L77.9 333.6L76.5 333.9L77.9 334.3L81.3 334.6L84.8 335.0L87.9 335.3L90.2 335.7L91.8 336.0L94.1 336.4L96.1 336.7L97.9 337.1L99.3 337.4L98.9 337.8L98.4 338.1L97.7 338.5L97.2 338.8L98.3 339.2L99.3 339.5L100.2 339.9L100.6 340.2L99.3 340.6L97.9 340.9L96.1 341.3L94.0 341.6L92.5 342.0L91.7 342.3L93.1 342.7L95.8 343.0L97.5 343.4L98.4 343.7L98.7 344.1L98.9 344.4L100.0 344.8L101.0 345.1L102.0 345.5L102.7 345.8L102.2 346.2L101.6 346.5L101.1 346.9L100.7 347.2L101.5 347.6L102.3 347.9L103.0 348.3L103.4 348.6L102.9 349.0L102.3 349.3L101.8 349.7L101.5 350.0L102.1 350.4L102.6 350.7L103.2 351.1L103.6 351.4L103.1 351.8L102.5 352.1L102.0 352.5L101.6 352.8L102.1 353.2L102.6 353.5L103.1 353.9L103.5 354.2L102.9 354.6L102.3 354.9L101.7 355.3L101.2 355.6L101.6 356.0L102.1 356.3L102.5 356.7L102.7 357.0L101.9 357.4L101.2 357.7L100.3 358.1L99.6 358.4L99.4 358.8L98.9 359.1L98.0 359.5L96.4 359.8L94.2 360.2L92.4 360.5L91.8 360.9L92.8 361.2L94.9 361.6L97.0 361.9L98.8 362.3L100.2 362.6L100.6 363.0L100.8 363.3L100.7 363.7L100.7 364.0L101.4 364.4L102.1 364.7L102.7 365.1L103.2 365.4L102.8 365.8L102.5 366.1L102.1 366.5L101.9 366.8L102.4 367.2L102.9 367.5L103.4 367.9L103.7 368.2L103.4 368.6L103.0 368.9L102.7 369.3L102.5 369.6L102.9 370.0L103.3 370.3L103.6 370.7L103.9 371.0L103.6 371.4L103.3 371.7L103.0 372.1L102.8 372.4L103.1 372.8L103.4 373.1L103.7 373.5L103.9 373.8L103.6 374.2L103.4 374.5L103.1 374.9L102.9 375.2L103.2 375.6L103.4 375.9L103.7 376.3L103.9 376.6L103.6 377.0L103.3 377.3L103.0 377.7L102.8 378.0L103.1 378.4L103.4 378.7L103.7 379.1L103.9 379.4L103.5 379.8L103.2 380.1L102.9 380.5L102.6 380.8L102.9 381.2L103.2 381.5L103.5 381.9L103.7 382.2L103.4 382.6L103.0 382.9L102.6 383.3L102.2 383.6L102.5 384.0L102.9 384.3L103.2 384.7L103.5 385.0L103.0 385.4L102.5 385.7L101.9 386.1L101.5 386.4L101.8 386.8L102.3 387.1L102.7 387.5L103.0 387.8L102.3 388.2L101.5 388.5L100.7 388.9L100.0 389.2L100.4 389.6L100.9 389.9L101.4 390.3L101.6 390.6L100.5 391.0L99.3 391.3L98.0 391.7L96.8 392.0L96.9 392.4L96.9 392.7L96.5 393.1L95.6 393.4L92.9 393.8L89.8 394.1L86.0 394.5L81.2 394.8L75.9 395.2L69.6 395.5L64.2 395.9L62.6 396.2L65.5 396.6L71.4 396.9L77.5 397.3L82.6 397.6L87.2 398.0L90.8 398.3L93.7 398.7L96.0 399.0L96.3 399.4L95.8 399.7L95.5 400.1L95.6 400.4L96.3 400.8L96.9 401.1L97.4 401.5L97.8 401.8L97.7 402.2L97.8 402.5L97.9 402.9L98.1 403.2L98.4 403.6L98.6 403.9L98.7 404.3L98.8 404.6L98.9 405.0L99.1 405.3L99.3 405.7L99.5 406.0L99.5 406.4L99.4 406.7L99.3 407.1L99.3 407.4L99.5 407.8L99.8 408.1L100.0 408.5L100.3 408.8L100.1 409.2L99.9 409.5L99.7 409.9L99.5 410.2" fill="none" stroke="#0b1f8c" stroke-width="1.5" stroke-linejoin="round" stroke-linecap="round"/>
<rect x="53.5" y="179.0" width="51.1" height="37.7" fill="#ffff6b" fill-opacity="0.4"/>
<rect x="53.5" y="298.6" width="51.1" height="38.4" fill="#6bffff" fill-opacity="0.4"/>
<rect x="53.5" y="337.0" width="51.1" height="75.4" fill="#9dff61" fill-opacity="0.4"/>
<rect x="453.7" y="153.7" width="12.8" height="199.3" fill="url(#cb)"/>
<path d="M466.5 353.0h3.0M466.5 345.7h1.6M466.5 338.3h1.6M466.5 331.0h1.6M466.5 323.6h1.6M466.5 316.3h3.0M466.5 309.0h1.6M466.5 301.6h1.6M466.5 294.3h1.6M466.5 286.9h1.6M466.5 279.6h3.0M466.5 272.3h1.6M466.5 264.9h1.6M466.5 257.6h1.6M466.5 250.2h1.6M466.5 242.9h3.0M466.5 235.6h1.6M466.5 228.2h1.6M466.5 220.9h1.6M466.5 213.5h1.6M466.5 206.2h3.0M466.5 198.9h1.6M466.5 191.5h1.6M466.5 184.2h1.6M466.5 176.8h1.6M466.5 169.5h3.0M466.5 162.2h1.6M466.5 154.8h1.6" stroke="#c8c8c8" stroke-width="0.5" fill="none"/>
<text x="116.6" y="20.0" text-anchor="middle" font-family='"DejaVu Sans Condensed", "Liberation Sans", sans-serif' font-size="15.4" fill="#222">2</text>
<text x="178.5" y="20.0" text-anchor="middle" font-family='"DejaVu Sans Condensed", "Liberation Sans", sans-serif' font-size="15.4" fill="#222">2.1</text>
<text x="240.5" y="20.0" text-anchor="middle" font-family='"DejaVu Sans Condensed", "Liberation Sans", sans-serif' font-size="15.4" fill="#222">2.2</text>
<text x="302.4" y="20.0" text-anchor="middle" font-family='"DejaVu Sans Condensed", "Liberation Sans", sans-serif' font-size="15.4" fill="#222">2.3</text>
<text x="364.4" y="20.0" text-anchor="middle" font-family='"DejaVu Sans Condensed", "Liberation Sans", sans-serif' font-size="15.4" fill="#222">2.4</text>
<text x="426.3" y="20.0" text-anchor="middle" font-family='"DejaVu Sans Condensed", "Liberation Sans", sans-serif' font-size="15.4" fill="#222">2.5</text>
<text transform="translate(46.2 414.5) rotate(-90)" text-anchor="middle" letter-spacing="0.9" font-family='"DejaVu Sans Condensed", "Liberation Sans", sans-serif' font-size="14.9" fill="#222">0</text>
<text transform="translate(46.2 338.1) rotate(-90)" text-anchor="middle" letter-spacing="0.9" font-family='"DejaVu Sans Condensed", "Liberation Sans", sans-serif' font-size="14.9" fill="#222">0.05</text>
<text transform="translate(46.2 261.7) rotate(-90)" text-anchor="middle" letter-spacing="0.9" font-family='"DejaVu Sans Condensed", "Liberation Sans", sans-serif' font-size="14.9" fill="#222">0.1</text>
<text transform="translate(46.2 185.3) rotate(-90)" text-anchor="middle" letter-spacing="0.9" font-family='"DejaVu Sans Condensed", "Liberation Sans", sans-serif' font-size="14.9" fill="#222">0.15</text>
<text transform="translate(46.2 108.9) rotate(-90)" text-anchor="middle" letter-spacing="0.9" font-family='"DejaVu Sans Condensed", "Liberation Sans", sans-serif' font-size="14.9" fill="#222">0.2</text>
<text x="473.2" y="358.7" font-family='"Liberation Sans", sans-serif' font-size="12.6" fill="#2a2a2a">0</text>
<text x="473.2" y="322.1" font-family='"Liberation Sans", sans-serif' font-size="12.6" fill="#2a2a2a">500</text>
<text x="473.2" y="285.4" font-family='"Liberation Sans", sans-serif' font-size="12.6" fill="#2a2a2a">1000</text>
<text x="473.2" y="248.8" font-family='"Liberation Sans", sans-serif' font-size="12.6" fill="#2a2a2a">1500</text>
<text x="473.2" y="212.1" font-family='"Liberation Sans", sans-serif' font-size="12.6" fill="#2a2a2a">2000</text>
<text x="473.2" y="175.4" font-family='"Liberation Sans", sans-serif' font-size="12.6" fill="#2a2a2a">2500</text>
<text x="285.6" y="446" text-anchor="middle" font-family='"Liberation Serif", "DejaVu Serif", serif' font-size="19.8" fill="#111"><tspan font-style="italic" font-size="21.5">ω</tspan> [a.u.]</text>
<text transform="translate(20.5 258.3) rotate(-90)" text-anchor="middle" font-family='"Liberation Serif", "DejaVu Serif", serif' font-size="19.8" fill="#111"><tspan font-style="italic" font-size="21.5">ω</tspan><tspan font-size="22" dy="-1.5">′</tspan><tspan dy="1.5"> [a.u.]</tspan></text>
<g transform="translate(538.8 285) rotate(-90)" font-family='"Liberation Serif", "DejaVu Serif", serif' font-size="19" fill="#111"><text x="-0.4" y="0">|</text><text x="5.4" y="0" font-style="italic" font-size="18">σ</text><text x="6.6" y="0.6" font-size="20">˜</text><text x="16.4" y="-7" font-size="14">(1)</text><text x="35.3" y="0">|</text><text x="45.2" y="0" font-size="19.5">[a.u.]</text></g>
</svg>
</body>
</html>
